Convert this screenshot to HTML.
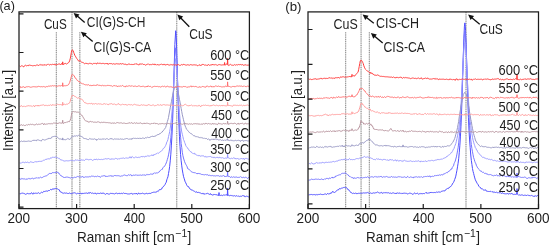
<!DOCTYPE html>
<html><head><meta charset="utf-8"><style>
html,body{margin:0;padding:0;background:#fff;width:550px;height:245px;overflow:hidden}
svg{display:block;will-change:transform}
text{font-family:"Liberation Sans",sans-serif;fill:#1e1e1e}
</style></head><body>
<svg width="550" height="245" viewBox="0 0 550 245">

<path d="M56.40,32.30 V208.60" stroke="#dadada" stroke-width="1.2" fill="none"/>
<path d="M56.40,32.30 V208.60" stroke="#9a9a9a" stroke-width="1.2" stroke-dasharray="1 1.2" fill="none"/>
<path d="M72.00,12.00 V208.60" stroke="#dadada" stroke-width="1.2" fill="none"/>
<path d="M72.00,12.00 V208.60" stroke="#9a9a9a" stroke-width="1.2" stroke-dasharray="1 1.2" fill="none"/>
<path d="M79.80,32.30 V208.60" stroke="#dadada" stroke-width="1.2" fill="none"/>
<path d="M79.80,32.30 V208.60" stroke="#9a9a9a" stroke-width="1.2" stroke-dasharray="1 1.2" fill="none"/>
<path d="M176.70,12.00 V208.60" stroke="#dadada" stroke-width="1.2" fill="none"/>
<path d="M176.70,12.00 V208.60" stroke="#9a9a9a" stroke-width="1.2" stroke-dasharray="1 1.2" fill="none"/>
<g fill="none" stroke-width="1.0" stroke-linejoin="round">
<path d="M19.60,193.77 20.18,193.89 20.75,193.70 21.33,193.05 21.90,193.38 22.48,193.14 23.05,193.56 23.62,193.14 24.20,193.76 24.78,193.76 25.35,194.33 25.93,193.95 26.50,193.91 27.08,193.51 27.65,193.30 28.23,193.99 28.80,193.68 29.38,193.74 29.95,193.67 30.52,193.82 31.10,192.95 31.68,192.72 32.25,193.47 32.83,194.26 33.40,192.95 33.98,193.04 34.55,193.38 35.12,193.18 35.70,193.18 36.27,193.12 36.85,193.56 37.42,193.30 38.00,193.25 38.58,192.70 39.15,193.17 39.73,193.61 40.30,193.26 40.88,192.76 41.45,192.23 42.02,192.63 42.60,192.62 43.17,192.27 43.75,191.34 44.33,191.53 44.90,191.34 45.47,191.23 46.05,191.47 46.62,190.93 47.20,190.94 47.77,191.34 48.35,190.55 48.92,190.45 49.50,190.53 50.08,189.96 50.65,189.36 51.22,189.71 51.80,189.89 52.38,188.89 52.95,189.04 53.52,188.93 54.10,189.47 54.67,188.51 55.25,188.71 55.82,188.30 56.40,188.36 56.98,188.79 57.55,188.96 58.12,189.36 58.70,189.62 59.27,189.77 59.85,191.09 60.42,191.99 61.00,192.01 61.57,192.16 62.15,193.01 62.73,193.09 63.30,193.14 63.88,193.47 64.45,192.96 65.03,192.88 65.60,193.21 66.17,192.87 66.75,193.20 67.32,193.36 67.90,193.52 68.47,193.53 69.05,192.86 69.62,193.14 70.20,193.37 70.78,193.67 71.35,193.73 71.92,193.30 72.50,193.21 73.07,192.84 73.65,192.99 74.22,192.91 74.80,192.71 75.38,193.02 75.95,193.56 76.53,193.88 77.10,193.52 77.67,193.28 78.25,193.37 78.82,193.56 79.40,193.51 79.97,193.45 80.55,193.21 81.12,193.13 81.70,193.98 82.28,193.78 82.85,193.05 83.42,193.46 84.00,193.01 84.57,193.25 85.15,193.04 85.72,193.26 86.30,193.03 86.88,193.07 87.45,193.34 88.03,193.44 88.60,192.62 89.17,193.48 89.75,192.51 90.32,192.50 90.90,192.84 91.47,193.30 92.05,193.21 92.62,193.04 93.20,193.55 93.78,193.34 94.35,193.26 94.92,193.55 95.50,193.09 96.07,194.00 96.65,193.91 97.22,193.44 97.80,193.36 98.38,193.38 98.95,193.60 99.53,193.54 100.10,193.10 100.67,192.92 101.25,193.63 101.82,192.94 102.40,192.96 102.97,193.68 103.55,192.95 104.12,193.47 104.70,193.79 105.28,194.35 105.85,194.11 106.42,193.66 107.00,193.12 107.57,193.83 108.15,193.97 108.72,194.13 109.30,194.16 109.88,193.64 110.45,193.38 111.03,193.05 111.60,193.51 112.17,193.77 112.75,193.32 113.32,193.51 113.90,193.83 114.47,194.11 115.05,193.38 115.62,193.38 116.20,193.12 116.78,193.06 117.35,193.68 117.92,193.88 118.50,193.45 119.07,193.40 119.65,193.26 120.22,194.08 120.80,193.44 121.38,193.37 121.95,193.18 122.53,193.65 123.10,193.37 123.67,192.82 124.25,193.42 124.82,193.53 125.40,193.45 125.97,193.53 126.55,193.62 127.12,193.70 127.70,193.99 128.28,193.92 128.85,194.02 129.42,193.94 130.00,193.86 130.57,193.62 131.15,193.63 131.72,193.17 132.30,193.90 132.88,194.41 133.45,193.79 134.03,193.34 134.60,193.67 135.17,193.54 135.75,193.93 136.32,193.14 136.90,194.06 137.47,194.23 138.05,193.93 138.62,192.96 139.20,193.33 139.78,194.07 140.35,193.76 140.92,193.31 141.50,193.55 142.07,193.56 142.65,193.11 143.22,193.39 143.80,193.80 144.38,193.88 144.95,193.91 145.53,193.66 146.10,193.22 146.67,193.29 147.25,193.99 147.82,193.65 148.40,193.59 148.97,192.90 149.55,193.46 150.12,193.21 150.70,193.56 151.27,192.88 151.85,192.73 152.42,192.56 153.00,192.29 153.57,192.23 154.15,192.27 154.72,192.12 155.30,192.08 155.87,192.50 156.45,191.98 157.02,191.68 157.60,190.99 158.17,191.52 158.75,190.52 159.32,189.56 159.90,189.85 160.47,189.72 161.05,188.91 161.62,189.14 162.20,187.74 162.77,186.97 163.35,186.76 163.92,186.01 164.50,185.19 165.07,184.49 165.65,183.14 166.22,182.28 166.80,179.78 167.37,178.38 167.95,176.77 168.52,173.52 169.10,170.27 169.67,166.35 170.25,160.84 170.82,154.16 171.40,145.13 171.97,135.15 172.55,122.67 173.12,105.96 173.70,85.80 174.27,64.42 174.85,44.47 175.70,30.72 176.00,32.40 176.57,45.38 177.15,65.15 177.72,87.66 178.30,107.08 178.87,123.06 179.45,136.38 180.02,146.53 180.60,154.67 181.17,160.77 181.75,165.87 182.32,169.92 182.90,173.23 183.47,176.24 184.05,178.16 184.62,179.99 185.20,181.85 185.77,182.80 186.35,184.21 186.92,185.36 187.50,186.28 188.07,186.92 188.65,186.63 189.22,187.99 189.80,188.78 190.37,188.92 190.95,189.80 191.52,189.94 192.10,189.94 192.67,190.33 193.25,190.79 193.82,190.86 194.40,191.08 194.97,191.70 195.55,192.30 196.12,191.82 196.70,191.78 197.27,192.68 197.85,192.33 198.42,192.35 199.00,192.46 199.57,192.72 200.15,192.90 200.72,193.13 201.30,193.55 201.87,193.55 202.45,193.71 203.02,192.95 203.60,193.55 204.17,194.41 204.75,193.62 205.32,194.19 205.90,193.62 206.47,193.64 207.05,193.65 207.62,193.31 208.20,193.80 208.77,193.72 209.35,194.49 209.92,193.94 210.50,193.61 211.07,194.90 211.65,194.51 212.22,194.59 212.80,195.38 213.37,194.65 213.95,194.14 214.52,194.47 215.10,194.66 215.67,194.65 216.25,194.96 216.82,194.48 217.40,195.23 217.97,194.98 218.55,194.94 218.70,195.60 219.00,192.56 219.30,194.74 219.70,195.53 220.27,195.40 220.85,195.44 221.42,195.18 222.00,195.59 222.57,195.59 223.15,195.14 223.72,194.93 224.30,194.99 224.87,195.28 225.45,195.18 226.02,194.45 226.60,194.93 227.30,195.41 227.60,188.25 227.90,195.60 228.32,195.03 228.90,195.26 229.47,195.72 230.05,195.18 230.62,195.45 231.20,195.36 231.77,195.71 232.35,195.80 232.92,195.52 233.50,195.97 234.07,195.87 234.65,195.65 235.22,196.01 235.80,196.35 236.37,195.83 236.95,195.68 237.52,196.25 238.10,195.87 238.67,196.20 239.25,196.63 239.82,196.23 240.40,196.26 240.97,196.10 241.55,196.31 242.12,195.82 242.70,195.62 243.27,196.06 243.85,195.44 244.42,196.54 245.00,196.94 245.57,196.58 246.15,196.23 246.72,196.21 247.30,196.46 247.87,196.36 248.45,196.88 249.02,196.39" stroke="#4c4cff"/>
<path d="M19.60,178.63 20.18,178.65 20.75,179.50 21.33,178.79 21.90,178.27 22.48,178.72 23.05,178.77 23.62,178.95 24.20,178.62 24.78,179.16 25.35,178.98 25.93,179.59 26.50,179.05 27.08,178.80 27.65,179.12 28.23,179.00 28.80,178.39 29.38,178.76 29.95,178.33 30.52,178.86 31.10,178.35 31.68,178.53 32.25,178.16 32.83,178.42 33.40,178.82 33.98,178.81 34.55,178.17 35.12,177.73 35.70,178.28 36.27,177.90 36.85,177.73 37.42,178.13 38.00,177.52 38.58,177.99 39.15,178.13 39.73,177.73 40.30,177.22 40.88,177.23 41.45,177.71 42.02,177.27 42.60,177.40 43.17,176.88 43.75,176.64 44.33,176.44 44.90,176.21 45.47,176.04 46.05,176.01 46.62,175.94 47.20,175.27 47.77,174.64 48.35,174.38 48.92,174.03 49.50,173.38 50.08,173.72 50.65,173.37 51.22,173.99 51.80,173.17 52.38,172.52 52.95,172.84 53.52,172.67 54.10,172.82 54.67,172.54 55.25,172.99 55.82,172.18 56.40,172.28 56.98,172.13 57.55,172.30 58.12,172.29 58.70,173.49 59.27,173.49 59.85,174.65 60.42,175.40 61.00,175.96 61.57,175.74 62.15,176.75 62.73,176.68 63.30,177.16 63.88,177.11 64.45,177.94 65.03,177.31 65.60,177.29 66.17,177.45 66.75,176.89 67.32,177.08 67.90,177.20 68.47,177.38 69.05,177.21 69.62,177.88 70.20,178.09 70.78,177.88 71.35,177.39 71.92,177.48 72.50,177.99 73.07,177.99 73.65,177.60 74.22,177.08 74.80,177.51 75.38,177.48 75.95,177.22 76.53,177.06 77.10,176.60 77.67,176.42 78.25,176.43 78.82,176.96 79.40,177.05 79.97,176.74 80.55,176.81 81.12,177.38 81.70,176.62 82.28,176.67 82.85,176.41 83.42,177.41 84.00,176.84 84.57,177.30 85.15,177.18 85.72,176.65 86.30,176.94 86.88,176.86 87.45,176.91 88.03,176.82 88.60,176.93 89.17,176.93 89.75,176.45 90.32,176.84 90.90,176.40 91.47,176.10 92.05,176.33 92.62,176.20 93.20,176.23 93.78,176.09 94.35,176.70 94.92,176.85 95.50,176.36 96.07,176.90 96.65,176.54 97.22,176.21 97.80,176.03 98.38,176.46 98.95,176.38 99.53,176.47 100.10,177.40 100.67,176.94 101.25,176.46 101.82,175.99 102.40,176.09 102.97,176.01 103.55,176.00 104.12,175.39 104.70,176.08 105.28,175.82 105.85,176.87 106.42,176.28 107.00,176.53 107.57,176.38 108.15,175.95 108.72,176.16 109.30,175.98 109.88,175.94 110.45,176.03 111.03,175.39 111.60,176.36 112.17,176.31 112.75,176.04 113.32,176.48 113.90,175.77 114.47,175.05 115.05,175.81 115.62,175.60 116.20,175.80 116.78,175.67 117.35,175.74 117.92,175.48 118.50,175.71 119.07,176.03 119.65,175.97 120.22,176.40 120.80,176.11 121.38,175.96 121.95,175.84 122.53,175.90 123.10,175.66 123.67,175.20 124.25,175.14 124.82,174.86 125.40,175.30 125.97,175.51 126.55,175.67 127.12,175.92 127.70,175.42 128.28,174.70 128.85,175.00 129.42,175.28 130.00,174.69 130.57,174.76 131.15,174.81 131.72,175.88 132.30,175.82 132.88,175.18 133.45,175.08 134.03,175.24 134.60,175.32 135.17,175.31 135.75,174.83 136.32,174.75 136.90,175.52 137.47,175.22 138.05,175.49 138.62,175.18 139.20,175.17 139.78,175.16 140.35,174.95 140.92,175.37 141.50,175.33 142.07,174.99 142.65,174.95 143.22,175.40 143.80,174.61 144.38,174.99 144.95,175.15 145.53,175.31 146.10,175.27 146.67,174.45 147.25,174.75 147.82,174.38 148.40,174.64 148.97,174.42 149.55,174.56 150.12,174.00 150.70,174.08 151.27,174.15 151.85,174.09 152.42,174.12 153.00,174.35 153.57,173.37 154.15,173.37 154.72,172.66 155.30,173.14 155.87,173.46 156.45,172.91 157.02,172.96 157.60,173.09 158.17,172.38 158.75,172.16 159.32,171.88 159.90,170.98 160.47,170.30 161.05,170.10 161.62,169.53 162.20,169.49 162.77,168.05 163.35,167.25 163.92,166.53 164.50,166.39 165.07,165.42 165.65,164.31 166.22,162.94 166.80,161.34 167.37,159.40 167.95,157.55 168.52,154.89 169.10,151.93 169.67,148.04 170.25,143.43 170.82,137.70 171.40,131.31 171.97,122.76 172.55,111.83 173.12,98.05 173.70,84.27 174.27,69.92 174.85,56.96 175.70,47.80 176.00,49.15 176.57,58.00 177.15,70.21 177.72,84.39 178.30,98.98 178.87,112.05 179.45,122.43 180.02,130.61 180.60,137.16 181.17,143.54 181.75,147.68 182.32,152.24 182.90,155.62 183.47,157.99 184.05,159.95 184.62,161.69 185.20,163.16 185.77,164.29 186.35,165.31 186.92,166.26 187.50,167.97 188.07,169.02 188.65,169.15 189.22,169.77 189.80,170.00 190.37,170.55 190.95,171.41 191.52,171.77 192.10,172.11 192.67,172.31 193.25,172.60 193.82,172.33 194.40,172.93 194.97,172.40 195.55,173.06 196.12,173.40 196.70,173.64 197.27,173.00 197.85,173.93 198.42,173.51 199.00,173.07 199.57,173.84 200.15,174.13 200.72,173.74 201.30,174.37 201.87,174.44 202.45,174.55 203.02,174.22 203.60,174.89 204.17,174.87 204.75,174.81 205.32,174.52 205.90,174.64 206.47,174.86 207.05,174.43 207.62,174.70 208.20,175.52 208.77,175.27 209.35,175.28 209.92,175.19 210.50,175.61 211.07,175.80 211.65,175.62 212.22,175.38 212.80,175.73 213.37,175.92 213.95,175.61 214.52,175.79 215.10,175.87 215.67,176.02 216.25,175.83 216.82,175.55 217.40,175.74 217.97,175.64 218.55,175.75 219.12,176.30 219.70,176.25 220.27,175.98 220.85,176.07 221.42,176.20 222.00,176.21 222.57,175.97 223.15,175.94 223.72,175.37 224.30,176.01 224.87,176.86 225.45,176.18 226.02,176.82 226.60,176.21 227.30,176.22 227.60,171.78 227.90,176.20 228.32,176.24 228.90,176.87 229.47,176.58 230.05,176.88 230.62,177.57 231.20,176.58 231.77,177.12 232.35,177.50 232.92,176.98 233.50,176.85 234.07,177.17 234.65,177.23 235.22,177.57 235.80,176.71 236.37,176.97 236.95,177.43 237.52,177.42 238.10,177.13 238.67,177.47 239.25,177.52 239.82,177.06 240.40,176.64 240.97,177.22 241.55,177.32 242.12,177.49 242.70,177.63 243.27,177.26 243.85,177.28 244.42,177.92 245.00,177.48 245.57,177.22 246.15,177.23 246.72,177.80 247.30,178.46 247.87,178.37 248.45,177.49 249.02,177.81" stroke="#7474ff"/>
<path d="M19.60,162.97 20.18,163.12 20.75,163.02 21.33,163.18 21.90,162.48 22.48,162.34 23.05,162.17 23.62,162.14 24.20,162.81 24.78,162.67 25.35,162.21 25.93,162.09 26.50,162.73 27.08,162.09 27.65,162.11 28.23,162.44 28.80,162.77 29.38,162.84 29.95,162.23 30.52,161.79 31.10,161.72 31.68,162.19 32.25,162.22 32.83,162.54 33.40,162.47 33.98,162.51 34.55,161.77 35.12,161.53 35.70,161.80 36.27,161.98 36.85,161.57 37.42,162.13 38.00,161.21 38.58,161.45 39.15,161.17 39.73,161.49 40.30,161.52 40.88,161.17 41.45,161.23 42.02,161.46 42.60,160.74 43.17,160.44 43.75,160.17 44.33,160.20 44.90,159.86 45.47,159.37 46.05,159.95 46.62,159.31 47.20,158.62 47.77,159.26 48.35,158.67 48.92,158.98 49.50,159.10 50.08,158.26 50.65,157.86 51.22,158.41 51.80,157.46 52.38,157.27 52.95,157.26 53.52,157.17 54.10,157.77 54.67,157.37 55.25,156.65 55.82,157.54 56.40,157.46 56.98,157.21 57.55,157.97 58.12,158.10 58.70,158.39 59.27,158.32 59.85,158.85 60.42,159.82 61.00,160.04 61.57,160.01 62.15,159.80 62.73,160.50 63.30,160.66 63.88,161.04 64.45,161.06 65.03,161.14 65.60,160.87 66.17,160.92 66.75,160.63 67.32,160.82 67.90,160.86 68.47,160.85 69.05,160.44 69.62,160.72 70.20,160.58 70.78,160.23 71.35,160.48 71.92,160.73 72.50,160.39 73.07,160.98 73.65,160.69 74.22,160.85 74.80,160.73 75.38,159.87 75.95,159.60 76.53,160.29 77.10,160.15 77.67,160.05 78.25,160.37 78.82,160.37 79.40,160.32 79.97,159.89 80.55,160.54 81.12,159.47 81.70,160.27 82.28,159.94 82.85,160.29 83.42,160.10 84.00,160.12 84.57,160.48 85.15,159.85 85.72,159.17 86.30,159.47 86.88,158.95 87.45,159.37 88.03,159.41 88.60,159.83 89.17,159.55 89.75,159.79 90.32,159.19 90.90,159.64 91.47,159.57 92.05,159.93 92.62,160.46 93.20,160.04 93.78,159.97 94.35,159.34 94.92,159.24 95.50,160.04 96.07,159.03 96.65,159.24 97.22,159.53 97.80,159.75 98.38,159.27 98.95,159.33 99.53,159.51 100.10,159.79 100.67,159.43 101.25,159.21 101.82,159.64 102.40,159.65 102.97,159.11 103.55,159.25 104.12,159.11 104.70,159.12 105.28,158.51 105.85,158.99 106.42,158.98 107.00,158.55 107.57,158.84 108.15,158.59 108.72,158.60 109.30,158.70 109.88,159.53 110.45,159.37 111.03,158.57 111.60,159.13 112.17,158.72 112.75,159.16 113.32,159.04 113.90,159.19 114.47,159.10 115.05,158.58 115.62,158.37 116.20,158.56 116.78,158.61 117.35,158.91 117.92,159.38 118.50,158.74 119.07,159.15 119.65,158.74 120.22,158.64 120.80,158.05 121.38,158.24 121.95,158.45 122.53,158.18 123.10,157.91 123.67,158.07 124.25,158.46 124.82,158.46 125.40,157.89 125.97,158.26 126.55,157.94 127.12,157.75 127.70,158.29 128.28,158.09 128.85,157.90 129.42,157.75 130.00,156.64 130.57,157.72 131.15,158.15 131.72,156.86 132.30,156.51 132.88,157.12 133.45,157.78 134.03,157.70 134.60,157.72 135.17,157.23 135.75,157.01 136.32,157.41 136.90,156.90 137.47,157.62 138.05,157.59 138.62,157.27 139.20,156.93 139.78,157.63 140.35,157.20 140.92,156.46 141.50,156.55 142.07,156.16 142.65,156.97 143.22,156.46 143.80,156.66 144.38,156.82 144.95,157.10 145.53,156.18 146.10,156.61 146.67,156.28 147.25,156.25 147.82,155.45 148.40,155.98 148.97,156.08 149.55,156.07 150.12,156.08 150.70,155.51 151.27,154.97 151.85,155.52 152.42,154.86 153.00,155.94 153.57,155.06 154.15,154.12 154.72,154.73 155.30,154.39 155.87,153.94 156.45,153.71 157.02,153.53 157.60,152.87 158.17,153.34 158.75,153.26 159.32,152.57 159.90,151.82 160.47,151.66 161.05,151.53 161.62,150.88 162.20,150.04 162.77,149.56 163.35,148.35 163.92,148.16 164.50,147.67 165.07,146.56 165.65,145.49 166.22,144.12 166.80,142.05 167.37,141.23 167.95,139.53 168.52,136.65 169.10,134.24 169.67,131.70 170.25,128.19 170.82,123.45 171.40,118.22 171.97,111.93 172.55,104.89 173.12,96.20 173.70,85.92 174.27,74.72 174.85,65.26 175.70,58.57 176.00,59.92 176.57,65.63 177.15,75.12 177.72,86.46 178.30,96.44 178.87,105.21 179.45,112.42 180.02,118.83 180.60,124.49 181.17,127.90 181.75,131.97 182.32,134.25 182.90,136.66 183.47,139.41 184.05,140.71 184.62,142.38 185.20,143.76 185.77,145.58 186.35,146.54 186.92,147.11 187.50,147.91 188.07,148.94 188.65,149.32 189.22,150.35 189.80,151.16 190.37,151.61 190.95,151.45 191.52,152.57 192.10,152.65 192.67,153.46 193.25,153.55 193.82,153.57 194.40,153.19 194.97,154.55 195.55,154.17 196.12,154.65 196.70,155.12 197.27,155.53 197.85,154.93 198.42,155.84 199.00,155.37 199.57,155.48 200.15,156.41 200.72,155.98 201.30,155.99 201.87,155.62 202.45,156.09 203.02,155.44 203.60,156.25 204.17,156.67 204.75,156.63 205.32,156.31 205.90,157.27 206.47,156.87 207.05,156.68 207.62,156.85 208.20,156.62 208.77,156.66 209.35,156.49 209.92,156.72 210.50,156.40 211.07,157.16 211.65,157.12 212.22,157.19 212.80,157.45 213.37,157.27 213.95,158.08 214.52,157.24 215.10,157.56 215.67,157.81 216.25,157.57 216.82,157.29 217.40,157.20 217.97,158.00 218.55,157.73 219.12,157.92 219.70,157.18 220.27,157.46 220.85,157.94 221.42,157.89 222.00,157.93 222.57,157.68 223.15,158.27 223.72,158.05 224.30,158.33 224.87,158.36 225.45,158.00 226.02,158.12 226.60,158.23 227.30,157.95 227.60,153.68 227.90,158.01 228.32,157.74 228.90,158.22 229.47,158.40 230.05,158.66 230.62,158.66 231.20,158.22 231.77,158.14 232.35,158.79 232.92,158.35 233.50,157.87 234.07,157.79 234.65,158.14 235.22,159.11 235.80,158.28 236.37,159.03 236.95,158.53 237.52,158.56 238.10,158.38 238.67,159.27 239.25,159.38 239.82,158.69 240.40,158.95 240.97,158.34 241.55,158.57 242.12,158.90 242.70,158.77 243.27,159.07 243.85,158.20 244.42,159.59 245.00,159.04 245.57,158.39 246.15,158.57 246.72,158.39 247.30,158.56 247.87,159.29 248.45,159.14 249.02,159.54" stroke="#9a9aff"/>
<path d="M19.60,142.01 20.18,141.64 20.75,141.47 21.33,140.96 21.90,141.38 22.48,141.56 23.05,141.31 23.62,141.25 24.20,140.79 24.78,141.65 25.35,141.47 25.93,141.16 26.50,141.39 27.08,141.33 27.65,141.20 28.23,141.04 28.80,141.06 29.38,141.18 29.95,141.30 30.52,141.32 31.10,141.14 31.68,141.24 32.25,140.87 32.83,140.26 33.40,140.11 33.98,140.86 34.55,140.14 35.12,140.23 35.70,140.50 36.27,140.85 36.85,139.87 37.42,139.91 38.00,140.00 38.58,140.01 39.15,140.23 39.73,140.51 40.30,140.48 40.88,141.20 41.45,140.92 42.02,139.79 42.60,139.40 43.17,139.67 43.75,139.65 44.33,140.05 44.90,139.90 45.47,139.83 46.05,139.42 46.62,139.35 47.20,139.18 47.77,138.78 48.35,138.81 48.92,137.98 49.50,138.42 50.08,138.25 50.65,138.83 51.22,137.80 51.80,136.89 52.38,136.83 52.95,136.84 53.52,136.54 54.10,136.21 54.67,136.36 55.25,136.00 55.82,136.76 56.40,136.08 56.98,136.82 57.55,137.45 58.12,137.76 58.70,138.52 59.27,138.72 59.85,139.21 60.42,138.96 61.00,138.93 61.57,139.27 62.15,139.65 62.40,140.04 62.70,137.90 63.00,139.44 63.30,139.41 63.88,139.95 64.45,139.60 65.03,140.07 65.60,139.66 66.17,139.39 66.75,139.29 67.32,138.87 67.90,138.38 68.47,138.88 69.05,138.81 69.62,139.58 70.20,138.92 70.78,138.49 71.35,137.56 71.92,136.71 72.50,135.99 73.07,135.80 73.65,136.60 74.22,136.08 74.80,135.88 75.38,136.18 75.95,135.83 76.53,135.65 77.10,136.31 77.67,135.85 78.25,135.44 78.82,135.34 79.40,135.24 79.97,135.71 80.55,136.13 81.12,136.17 81.70,136.65 82.28,136.68 82.85,137.46 83.42,138.28 84.00,138.13 84.57,138.55 85.15,138.56 85.72,138.72 86.30,139.07 86.88,138.74 87.45,139.40 88.03,139.62 88.60,139.65 89.17,138.93 89.75,138.41 90.32,138.75 90.90,139.08 91.47,139.11 92.05,139.07 92.62,139.14 93.20,139.03 93.78,139.35 94.35,138.73 94.92,139.19 95.50,139.36 96.07,139.03 96.65,140.41 97.22,139.59 97.80,139.38 98.38,138.83 98.95,139.19 99.53,139.27 100.10,139.60 100.67,139.14 101.25,139.57 101.82,138.84 102.40,139.12 102.97,138.58 103.55,139.04 104.12,139.42 104.70,138.73 105.28,139.32 105.85,139.39 106.42,138.70 107.00,138.74 107.57,138.89 108.15,139.29 108.72,139.68 109.30,139.08 109.88,138.82 110.45,138.95 111.03,138.18 111.60,139.07 112.17,139.08 112.75,139.03 113.32,139.57 113.90,139.14 114.47,138.88 115.05,139.40 115.62,139.03 116.20,139.10 116.78,138.99 117.35,139.05 117.92,139.14 118.50,139.19 119.07,138.69 119.65,139.40 120.22,138.99 120.80,138.87 121.38,139.26 121.95,138.90 122.53,139.12 123.10,139.39 123.67,139.37 124.25,138.90 124.82,139.25 125.40,138.92 125.97,138.63 126.55,138.53 127.12,138.87 127.70,138.61 128.28,139.20 128.85,139.16 129.42,139.05 130.00,139.19 130.57,139.16 131.15,138.56 131.72,139.49 132.30,138.38 132.88,138.63 133.45,138.01 134.03,138.36 134.60,138.38 135.17,138.05 135.75,138.59 136.32,138.56 136.90,138.50 137.47,138.11 138.05,138.81 138.62,138.41 139.20,138.60 139.78,137.87 140.35,138.64 140.92,138.20 141.50,138.50 142.07,138.07 142.65,138.04 143.22,138.17 143.80,137.98 144.38,138.61 144.95,137.95 145.53,137.70 146.10,138.03 146.67,137.75 147.25,137.25 147.82,137.27 148.40,137.56 148.97,137.32 149.55,137.54 150.12,136.74 150.70,136.95 151.27,136.55 151.85,136.48 152.42,136.27 153.00,136.03 153.57,136.92 154.15,136.28 154.72,136.20 155.30,135.90 155.87,136.20 156.45,135.28 157.02,134.64 157.60,134.93 158.17,134.29 158.75,134.73 159.32,133.81 159.90,133.56 160.47,133.53 161.05,132.64 161.62,132.35 162.20,132.10 162.77,131.01 163.35,130.68 163.92,129.56 164.50,128.99 165.07,128.63 165.65,127.49 166.22,125.53 166.80,123.71 167.37,121.56 167.95,119.81 168.52,117.42 169.10,114.00 169.67,111.02 170.25,107.75 170.82,104.95 171.40,101.79 171.97,98.57 172.55,95.69 173.12,92.97 173.70,90.42 174.27,88.70 174.85,87.11 175.42,86.80 176.00,87.00 176.57,86.66 177.15,88.98 177.72,90.56 178.30,93.14 178.87,95.74 179.45,99.26 180.02,102.10 180.60,105.44 181.17,108.41 181.75,111.67 182.32,114.82 182.90,117.13 183.47,119.78 184.05,121.91 184.62,124.04 185.20,126.08 185.77,127.34 186.35,128.92 186.92,129.41 187.50,130.28 188.07,131.09 188.65,131.52 189.22,132.47 189.80,132.70 190.37,133.06 190.95,133.78 191.52,133.88 192.10,134.40 192.67,134.72 193.25,135.41 193.82,135.90 194.40,135.90 194.97,135.67 195.55,136.28 196.12,137.13 196.70,136.56 197.27,136.60 197.85,137.25 198.42,137.08 199.00,137.07 199.57,137.68 200.15,137.26 200.72,137.88 201.30,137.53 201.87,137.99 202.45,137.99 203.02,137.82 203.60,138.42 204.17,137.89 204.75,138.50 205.32,138.47 205.90,138.94 206.47,138.37 207.05,139.01 207.62,139.60 208.20,138.91 208.77,139.00 209.35,139.40 209.92,140.45 210.50,139.62 211.07,139.14 211.65,139.37 212.22,139.34 212.80,139.27 213.37,139.00 213.95,139.93 214.52,139.15 215.10,139.45 215.67,138.99 216.25,138.79 216.82,139.71 217.40,139.30 217.97,139.95 218.55,139.91 219.12,139.58 219.70,140.10 220.27,139.53 220.85,140.15 221.42,140.46 222.00,139.73 222.57,140.06 223.15,140.63 223.72,140.38 224.30,139.80 224.87,140.44 225.45,140.29 226.02,140.33 226.60,139.82 227.30,140.29 227.60,138.68 227.90,139.92 228.32,140.38 228.90,140.23 229.47,140.58 230.05,140.68 230.62,140.16 231.20,139.88 231.77,140.72 232.35,140.71 232.92,140.29 233.50,140.77 234.07,140.73 234.65,140.69 235.22,140.37 235.80,140.27 236.37,140.88 236.95,140.59 237.52,140.45 238.10,140.73 238.67,140.24 239.25,140.45 239.82,140.55 240.40,141.50 240.97,140.28 241.55,140.53 242.12,140.37 242.70,140.01 243.27,141.20 243.85,141.34 244.42,140.69 245.00,140.58 245.57,140.58 246.15,140.62 246.72,140.56 247.30,140.76 247.87,141.10 248.45,140.94 249.02,141.10" stroke="#9898c4"/>
<path d="M19.60,125.83 20.18,125.13 20.75,125.08 21.33,124.83 21.90,124.73 22.48,125.41 23.05,125.11 23.62,124.94 24.20,125.29 24.78,125.62 25.35,125.42 25.93,125.32 26.50,124.71 27.08,125.20 27.65,125.16 28.23,124.50 28.80,124.42 29.38,124.80 29.95,124.34 30.52,124.22 31.10,124.18 31.68,124.67 32.25,124.32 32.83,124.40 33.40,124.65 33.98,124.90 34.55,124.91 35.12,124.79 35.70,124.68 36.27,123.82 36.85,124.18 37.42,124.61 38.00,124.62 38.58,124.18 39.15,124.42 39.73,124.22 40.30,124.21 40.88,124.05 41.45,123.77 42.02,123.45 42.60,123.43 43.17,123.71 43.75,124.87 44.33,123.59 44.90,124.01 45.47,124.28 46.05,124.28 46.62,124.02 47.20,123.97 47.77,123.97 48.35,123.70 48.92,123.60 49.50,123.69 50.08,123.70 50.65,123.74 51.22,123.39 51.80,123.94 52.38,123.84 52.95,123.49 53.52,123.01 54.10,122.93 54.67,123.16 55.25,123.27 55.82,123.04 56.40,123.54 56.98,122.94 57.55,123.66 58.12,122.83 58.70,123.38 59.27,122.94 59.85,122.62 60.42,122.99 61.00,123.07 61.57,123.11 62.15,123.33 62.40,123.07 62.70,120.24 63.00,123.05 63.30,123.45 63.88,123.39 64.45,122.58 65.03,122.52 65.60,122.57 66.17,122.55 66.75,121.87 67.32,122.03 67.90,121.83 68.47,121.49 69.05,122.08 69.62,121.23 70.20,120.18 70.78,118.60 71.35,115.54 71.92,112.56 72.50,111.87 73.07,111.69 73.65,111.57 74.22,111.84 74.80,111.79 75.38,111.71 75.95,111.95 76.53,112.16 77.10,111.94 77.67,112.19 78.25,112.13 78.82,112.45 79.40,112.89 79.97,113.49 80.55,114.31 81.12,114.80 81.70,115.04 82.28,116.09 82.85,116.49 83.42,117.82 84.00,118.68 84.57,119.72 85.15,120.40 85.72,121.10 86.30,121.21 86.88,120.85 87.45,121.20 88.03,122.19 88.60,122.00 89.17,122.03 89.75,121.97 90.32,121.13 90.90,121.64 91.47,121.87 92.05,121.61 92.62,121.77 93.20,122.27 93.78,122.17 94.35,122.17 94.92,122.06 95.50,122.20 96.07,122.34 96.65,122.29 97.22,121.93 97.80,121.93 98.38,121.67 98.95,122.44 99.53,122.31 100.10,122.70 100.67,122.79 101.25,122.10 101.82,122.29 102.40,122.58 102.97,121.85 103.55,122.40 104.12,122.48 104.70,122.33 105.28,122.69 105.85,122.21 106.42,122.56 107.00,123.03 107.57,122.58 108.15,123.03 108.72,122.58 109.30,122.65 109.88,123.06 110.45,122.99 111.03,123.12 111.60,123.27 112.17,123.45 112.75,122.66 113.32,123.39 113.90,122.95 114.47,123.03 115.05,122.85 115.62,123.43 116.20,123.22 116.78,122.43 117.35,122.56 117.92,122.69 118.50,122.83 119.07,122.95 119.65,123.07 120.22,122.87 120.80,122.91 121.38,122.92 121.95,122.84 122.53,123.38 123.10,123.13 123.67,123.14 124.25,123.26 124.82,122.91 125.40,123.53 125.97,123.19 126.55,123.51 127.12,123.15 127.70,123.44 128.28,123.26 128.85,122.95 129.42,122.92 130.00,122.60 130.57,123.28 131.15,122.84 131.72,122.55 132.30,123.41 132.88,123.12 133.45,123.35 134.03,123.23 134.60,122.73 135.17,123.06 135.75,123.55 136.32,123.17 136.90,122.60 137.47,123.39 138.05,123.21 138.62,123.31 139.20,123.07 139.78,123.35 140.35,123.00 140.92,122.76 141.50,123.50 142.07,123.50 142.65,123.92 143.22,123.17 143.80,123.43 144.38,123.10 144.95,123.99 145.53,123.40 146.10,123.63 146.67,123.13 147.25,123.28 147.82,123.31 148.40,123.52 148.97,123.53 149.55,123.91 150.12,123.77 150.70,124.02 151.27,123.52 151.85,123.68 152.42,123.04 153.00,123.69 153.57,123.51 154.15,122.79 154.72,123.40 155.30,123.29 155.87,123.98 156.45,123.53 157.02,123.69 157.60,123.72 158.17,123.95 158.75,124.39 159.32,123.94 159.90,123.56 160.47,123.81 161.05,123.70 161.62,123.63 162.20,123.67 162.77,123.29 163.35,123.86 163.92,123.90 164.50,123.83 165.07,123.71 165.65,123.64 166.22,123.88 166.80,123.55 167.37,123.54 167.95,123.85 168.52,123.48 169.10,123.82 169.67,123.69 170.25,123.73 170.82,123.81 171.40,123.96 171.97,123.85 172.55,123.41 173.12,123.44 173.70,123.64 174.27,123.49 174.85,122.90 175.42,122.99 176.00,123.47 176.57,123.93 177.15,124.16 177.72,124.69 178.30,123.76 178.87,123.49 179.45,123.59 180.02,123.76 180.60,123.88 181.17,124.35 181.75,123.95 182.32,124.27 182.90,124.12 183.47,123.79 184.05,123.27 184.62,123.80 185.20,123.82 185.77,123.22 186.35,124.08 186.92,123.68 187.50,123.89 188.07,124.28 188.65,124.18 189.22,123.86 189.80,123.82 190.37,124.09 190.95,124.06 191.52,123.84 192.10,124.16 192.67,124.36 193.25,123.98 193.82,123.59 194.40,123.84 194.97,123.38 195.55,123.70 196.12,123.97 196.70,123.79 197.27,123.48 197.85,124.35 198.42,123.93 199.00,124.16 199.57,124.11 200.15,123.82 200.72,124.44 201.30,124.00 201.87,124.21 202.45,124.13 203.02,124.25 203.60,123.51 204.17,123.86 204.75,124.02 205.32,123.85 205.90,123.07 206.47,123.44 207.05,123.68 207.62,123.99 208.20,123.60 208.77,123.34 209.35,123.93 209.92,123.97 210.50,123.83 211.07,124.21 211.65,124.11 212.22,124.07 212.80,123.22 213.37,124.15 213.95,123.73 214.52,123.76 215.10,124.15 215.67,123.90 216.25,124.02 216.82,124.07 217.40,124.69 217.97,124.22 218.55,123.05 219.12,123.50 219.70,123.68 220.27,123.81 220.85,123.66 221.42,124.06 222.00,124.01 222.57,124.04 223.15,123.67 223.72,123.20 224.30,123.94 224.87,123.80 225.45,123.67 226.02,123.65 226.60,124.23 227.30,123.34 227.60,121.26 227.90,123.91 228.32,124.53 228.90,123.33 229.47,123.80 230.05,123.75 230.62,123.36 231.20,123.39 231.77,123.36 232.35,123.55 232.92,123.79 233.50,123.72 234.07,122.99 234.65,123.25 235.22,123.39 235.80,123.63 236.37,124.25 236.95,124.47 237.52,123.59 238.10,123.03 238.67,124.13 239.25,123.79 239.82,124.19 240.40,123.42 240.97,123.70 241.55,123.44 242.12,123.46 242.70,123.19 243.27,123.60 243.85,124.35 244.42,123.68 245.00,123.57 245.57,123.05 246.15,123.92 246.72,123.92 247.30,123.87 247.87,123.65 248.45,123.76 249.02,124.25" stroke="#b8949e"/>
<path d="M19.60,106.60 20.18,106.19 20.75,106.50 21.33,105.54 21.90,105.87 22.48,106.69 23.05,106.24 23.62,106.39 24.20,105.91 24.78,106.56 25.35,106.55 25.93,106.62 26.50,106.11 27.08,106.25 27.65,105.80 28.23,106.12 28.80,105.36 29.38,106.01 29.95,106.19 30.52,105.89 31.10,106.38 31.68,105.99 32.25,106.51 32.83,105.86 33.40,105.59 33.98,105.72 34.55,106.92 35.12,105.51 35.70,105.57 36.27,105.57 36.85,105.92 37.42,105.23 38.00,106.22 38.58,105.15 39.15,106.04 39.73,105.62 40.30,105.26 40.88,105.73 41.45,105.01 42.02,105.36 42.60,105.01 43.17,104.89 43.75,104.85 44.33,105.23 44.90,105.93 45.47,105.37 46.05,105.82 46.62,105.23 47.20,105.53 47.77,105.58 48.35,105.27 48.92,105.49 49.50,105.39 50.08,105.35 50.65,104.62 51.22,105.07 51.80,105.69 52.38,104.58 52.95,104.89 53.52,104.97 54.10,105.04 54.67,105.10 55.25,105.19 55.82,104.78 56.40,104.82 56.98,104.51 57.55,104.22 58.12,104.37 58.70,104.66 59.27,104.68 59.85,104.57 60.42,104.50 61.00,104.96 61.57,104.76 62.15,104.76 62.40,105.48 62.70,102.26 63.00,104.76 63.30,104.89 63.88,103.95 64.45,104.20 65.03,104.43 65.60,104.62 66.17,104.17 66.75,104.20 67.32,104.19 67.90,104.10 68.47,103.51 69.05,103.43 69.62,102.88 70.20,101.35 70.78,98.90 71.35,97.58 71.92,95.92 72.50,95.14 73.07,95.94 73.65,95.24 74.22,95.95 74.80,96.65 75.38,96.55 75.95,97.07 76.53,97.43 77.10,97.88 77.67,98.25 78.25,98.00 78.82,97.55 79.40,98.54 79.97,98.62 80.55,99.12 81.12,98.64 81.70,99.44 82.28,99.56 82.85,100.31 83.42,101.35 84.00,101.89 84.57,102.62 85.15,102.30 85.72,103.29 86.30,103.22 86.88,103.57 87.45,103.73 88.03,103.75 88.60,103.78 89.17,103.10 89.75,103.67 90.32,103.71 90.90,103.62 91.47,103.39 92.05,103.28 92.62,104.38 93.20,103.90 93.78,103.65 94.35,104.04 94.92,103.65 95.50,103.50 96.07,103.92 96.65,103.89 97.22,103.97 97.80,104.11 98.38,103.76 98.95,103.74 99.53,104.00 100.10,103.89 100.67,103.94 101.25,104.25 101.82,104.16 102.40,104.47 102.97,103.84 103.55,104.02 104.12,103.96 104.70,103.58 105.28,104.19 105.85,104.17 106.42,103.82 107.00,104.41 107.57,104.42 108.15,104.96 108.72,104.20 109.30,104.01 109.88,104.00 110.45,103.86 111.03,103.93 111.60,103.58 112.17,104.30 112.75,104.19 113.32,104.25 113.90,104.28 114.47,103.83 115.05,104.58 115.62,104.69 116.20,104.96 116.78,104.49 117.35,104.27 117.92,104.06 118.50,103.47 119.07,104.67 119.65,104.45 120.22,104.85 120.80,104.92 121.38,104.84 121.95,104.33 122.53,104.03 123.10,104.67 123.67,104.54 124.25,104.63 124.82,104.89 125.40,104.27 125.97,105.15 126.55,104.83 127.12,105.03 127.70,105.06 128.28,104.73 128.85,104.32 129.42,104.65 130.00,104.52 130.57,104.89 131.15,104.76 131.72,104.65 132.30,105.24 132.88,105.08 133.45,104.74 134.03,104.37 134.60,104.26 135.17,104.66 135.75,104.71 136.32,105.10 136.90,104.57 137.47,105.08 138.05,104.62 138.62,105.13 139.20,105.86 139.78,105.33 140.35,105.33 140.92,104.98 141.50,104.74 142.07,104.94 142.65,105.24 143.22,104.89 143.80,104.99 144.38,105.18 144.95,105.12 145.53,105.35 146.10,105.89 146.67,105.15 147.25,105.05 147.82,105.49 148.40,104.55 148.97,104.63 149.55,104.93 150.12,105.04 150.70,105.52 151.27,105.62 151.85,105.24 152.42,105.09 153.00,104.91 153.57,105.01 154.15,105.40 154.72,105.86 155.30,105.48 155.87,105.67 156.45,105.41 157.02,104.83 157.60,104.79 158.17,105.08 158.75,104.88 159.32,105.40 159.90,104.79 160.47,104.84 161.05,104.58 161.62,105.51 162.20,104.90 162.77,105.15 163.35,104.50 163.92,105.08 164.50,104.69 165.07,104.70 165.65,105.19 166.22,104.90 166.80,105.08 167.37,105.01 167.95,104.77 168.52,105.13 169.10,105.03 169.67,105.30 170.25,105.34 170.82,104.96 171.40,105.03 171.97,105.30 172.55,105.71 173.12,104.86 173.70,105.30 174.27,105.58 174.85,105.31 175.42,105.50 176.00,105.57 176.57,104.96 177.15,105.65 177.72,105.12 178.30,104.98 178.87,105.75 179.45,105.79 180.02,105.73 180.60,105.31 181.17,105.33 181.75,105.26 182.32,105.74 182.90,105.57 183.47,105.53 184.05,104.74 184.62,104.62 185.20,104.22 185.77,104.52 186.35,105.04 186.92,105.34 187.50,105.60 188.07,105.80 188.65,105.97 189.22,105.14 189.80,105.83 190.37,105.49 190.95,105.49 191.52,105.06 192.10,105.60 192.67,105.89 193.25,105.49 193.82,106.11 194.40,105.77 194.97,105.37 195.55,105.68 196.12,105.78 196.70,105.83 197.27,105.65 197.85,106.32 198.42,105.55 199.00,104.93 199.57,105.70 200.15,106.09 200.72,106.92 201.30,105.50 201.87,105.36 202.45,105.52 203.02,105.60 203.60,105.13 204.17,105.34 204.75,105.35 205.32,104.96 205.90,105.49 206.47,105.52 207.05,105.50 207.62,105.42 208.20,105.77 208.77,105.28 209.35,105.84 209.92,105.65 210.50,105.97 211.07,105.08 211.65,105.80 212.22,105.43 212.80,105.33 213.37,105.03 213.95,104.85 214.52,105.41 215.10,105.65 215.67,105.79 216.25,105.20 216.82,105.09 217.40,105.56 217.97,105.54 218.55,105.84 219.12,105.62 219.70,105.21 220.27,105.85 220.85,105.85 221.42,105.61 222.00,104.99 222.57,105.86 223.15,105.82 223.72,105.32 224.30,105.42 224.87,106.11 225.45,105.78 226.02,105.91 226.60,105.86 227.30,105.64 227.60,102.18 227.90,105.57 228.32,105.60 228.90,105.08 229.47,105.46 230.05,105.85 230.62,105.62 231.20,105.73 231.77,106.02 232.35,106.37 232.92,105.93 233.50,105.00 234.07,105.34 234.65,105.21 235.22,105.43 235.80,105.08 236.37,105.51 236.95,105.08 237.52,105.30 238.10,105.32 238.67,105.81 239.25,105.19 239.82,105.19 240.40,105.32 240.97,105.28 241.55,105.15 242.12,105.52 242.70,106.08 243.27,105.46 243.85,104.91 244.42,105.69 245.00,105.54 245.57,105.40 246.15,105.39 246.72,105.13 247.30,104.88 247.87,105.28 248.45,105.47 249.02,105.41" stroke="#ff9c9c"/>
<path d="M19.60,87.00 20.18,86.41 20.75,87.76 21.33,87.37 21.90,87.22 22.48,87.02 23.05,87.28 23.62,86.54 24.20,87.26 24.78,87.92 25.35,87.00 25.93,87.28 26.50,86.76 27.08,86.49 27.65,86.83 28.23,86.64 28.80,86.67 29.38,86.86 29.95,86.82 30.52,87.25 31.10,87.23 31.68,87.08 32.25,86.97 32.83,86.66 33.40,86.67 33.98,86.79 34.55,86.76 35.12,86.59 35.70,86.93 36.27,87.28 36.85,86.44 37.42,86.77 38.00,86.39 38.58,86.33 39.15,86.39 39.73,86.65 40.30,86.76 40.88,86.81 41.45,86.64 42.02,86.87 42.60,86.80 43.17,86.44 43.75,86.67 44.33,86.73 44.90,86.96 45.47,87.05 46.05,87.14 46.62,86.43 47.20,86.82 47.77,86.37 48.35,86.05 48.92,86.37 49.50,86.20 50.08,86.08 50.65,85.91 51.22,86.14 51.80,85.90 52.38,85.56 52.95,85.96 53.52,85.99 54.10,85.69 54.67,85.75 55.25,85.93 55.82,86.05 56.40,86.45 56.98,86.42 57.55,86.09 58.12,85.69 58.70,85.91 59.27,85.58 59.85,86.01 60.42,85.79 61.00,86.20 61.57,85.52 62.15,86.00 62.40,86.10 62.70,82.79 63.00,86.43 63.30,85.92 63.88,85.75 64.45,85.74 65.03,85.43 65.60,85.77 66.17,85.41 66.75,85.68 67.32,85.57 67.90,84.80 68.47,84.69 69.05,83.77 69.62,82.60 70.20,80.80 70.78,78.59 71.35,76.56 71.92,74.66 72.50,74.36 73.07,74.85 73.65,75.24 74.22,75.96 74.80,77.13 75.38,78.28 75.95,78.30 76.53,79.33 77.10,80.36 77.67,80.62 78.25,81.32 78.82,81.13 79.40,82.13 79.97,82.05 80.55,82.64 81.12,82.91 81.70,83.45 82.28,84.05 82.85,83.55 83.42,83.88 84.00,84.19 84.57,84.55 85.15,84.59 85.72,84.99 86.30,84.83 86.88,84.76 87.45,85.02 88.03,84.67 88.60,84.67 89.17,85.35 89.75,85.47 90.32,85.08 90.90,85.82 91.47,85.62 92.05,85.17 92.62,85.93 93.20,85.09 93.78,85.28 94.35,85.38 94.92,85.17 95.50,85.44 96.07,85.13 96.65,85.39 97.22,84.49 97.80,85.26 98.38,85.03 98.95,85.64 99.53,85.30 100.10,85.21 100.67,85.61 101.25,85.82 101.82,85.73 102.40,85.06 102.97,85.47 103.55,85.71 104.12,85.27 104.70,85.86 105.28,85.65 105.85,85.92 106.42,85.85 107.00,85.26 107.57,85.38 108.15,85.44 108.72,85.42 109.30,85.41 109.88,85.74 110.45,85.69 111.03,85.82 111.60,85.82 112.17,86.36 112.75,86.32 113.32,85.79 113.90,85.75 114.47,85.68 115.05,85.45 115.62,86.14 116.20,85.96 116.78,85.77 117.35,86.70 117.92,85.99 118.50,86.17 119.07,86.11 119.65,86.19 120.22,85.80 120.80,86.10 121.38,86.34 121.95,85.62 122.53,85.45 123.10,85.90 123.67,86.34 124.25,86.34 124.82,86.83 125.40,86.91 125.97,85.79 126.55,86.11 127.12,86.22 127.70,86.26 128.28,85.77 128.85,86.29 129.42,85.76 130.00,86.19 130.57,86.18 131.15,86.11 131.72,85.88 132.30,85.72 132.88,86.34 133.45,86.38 134.03,86.30 134.60,86.18 135.17,86.23 135.75,86.06 136.32,86.49 136.90,86.45 137.47,86.41 138.05,86.37 138.62,85.82 139.20,85.83 139.78,86.24 140.35,86.65 140.92,86.25 141.50,86.53 142.07,86.79 142.65,86.08 143.22,86.36 143.80,86.19 144.38,86.71 144.95,87.01 145.53,86.74 146.10,86.97 146.67,86.26 147.25,86.95 147.82,85.84 148.40,86.01 148.97,86.43 149.55,86.52 150.12,86.33 150.70,86.36 151.27,86.95 151.85,87.59 152.42,87.04 153.00,87.07 153.57,86.54 154.15,86.36 154.72,86.32 155.30,86.38 155.87,86.59 156.45,86.47 157.02,86.75 157.60,86.24 158.17,86.80 158.75,86.75 159.32,86.54 159.90,86.91 160.47,87.05 161.05,87.13 161.62,86.59 162.20,85.95 162.77,86.38 163.35,86.58 163.92,86.64 164.50,86.19 165.07,86.52 165.65,86.98 166.22,87.09 166.80,86.28 167.37,86.14 167.95,86.46 168.52,86.72 169.10,86.71 169.67,86.92 170.25,86.50 170.82,87.05 171.40,86.63 171.97,87.62 172.55,87.25 173.12,87.42 173.70,86.90 174.27,87.50 174.85,86.95 175.42,87.18 176.00,86.82 176.57,87.26 177.15,86.42 177.72,86.27 178.30,86.43 178.87,86.75 179.45,86.43 180.02,87.24 180.60,86.63 181.17,86.69 181.75,87.07 182.32,87.00 182.90,87.04 183.47,86.36 184.05,86.66 184.62,86.59 185.20,86.43 185.77,86.76 186.35,86.83 186.92,87.56 187.50,87.14 188.07,86.59 188.65,86.94 189.22,86.78 189.80,86.94 190.37,86.47 190.95,85.77 191.52,86.93 192.10,86.94 192.67,86.30 193.25,86.38 193.82,86.26 194.40,86.87 194.97,86.32 195.55,86.39 196.12,87.04 196.70,86.64 197.27,86.85 197.85,87.44 198.42,87.33 199.00,86.57 199.57,86.93 200.15,87.05 200.72,87.20 201.30,87.29 201.87,86.57 202.45,86.47 203.02,86.32 203.60,86.68 204.17,86.73 204.75,87.10 205.32,87.10 205.90,87.25 206.47,86.14 207.05,86.50 207.62,86.11 208.20,86.59 208.77,86.77 209.35,86.73 209.92,86.42 210.50,86.17 211.07,85.96 211.65,87.02 212.22,86.97 212.80,86.52 213.37,86.98 213.95,86.17 214.52,86.81 215.10,86.37 215.67,85.86 216.25,86.26 216.82,85.91 217.40,86.51 217.97,86.17 218.55,86.05 219.12,86.35 219.70,86.57 220.27,86.60 220.85,86.44 221.42,86.83 222.00,87.08 222.57,86.86 223.15,86.48 223.72,86.87 224.30,87.14 224.87,86.30 225.45,86.07 226.02,86.51 226.60,86.56 227.30,86.50 227.60,81.87 227.90,86.40 228.32,86.37 228.90,86.25 229.47,86.48 230.05,86.99 230.62,86.90 231.20,86.98 231.77,86.93 232.35,86.57 232.92,86.20 233.50,86.44 234.07,86.09 234.65,86.87 235.22,86.54 235.80,86.62 236.37,86.10 236.95,86.41 237.52,85.98 238.10,86.42 238.67,86.12 239.25,86.15 239.82,85.84 240.40,86.14 240.97,86.36 241.55,86.06 242.12,86.42 242.70,86.54 243.27,86.45 243.85,85.95 244.42,85.91 245.00,86.50 245.57,86.54 246.15,86.43 246.72,86.63 247.30,86.16 247.87,86.11 248.45,86.04 249.02,86.94" stroke="#ff7070"/>
<path d="M19.60,65.98 20.18,66.39 20.75,66.52 21.33,65.97 21.90,65.61 22.48,65.82 23.05,66.63 23.62,66.95 24.20,66.08 24.78,65.59 25.35,65.26 25.93,65.31 26.50,65.83 27.08,65.56 27.65,65.55 28.23,65.81 28.80,65.01 29.38,65.04 29.95,65.41 30.52,65.33 31.10,65.38 31.68,65.57 32.25,65.71 32.83,65.85 33.40,65.69 33.98,65.70 34.55,65.48 35.12,65.75 35.70,65.60 36.27,65.19 36.85,65.01 37.42,64.99 38.00,65.11 38.58,65.48 39.15,65.39 39.73,64.60 40.30,64.94 40.88,64.39 41.45,64.90 42.02,64.76 42.60,65.04 43.17,65.48 43.75,64.68 44.33,64.55 44.90,65.37 45.47,64.73 46.05,65.38 46.62,64.95 47.20,64.65 47.77,64.26 48.35,64.09 48.92,64.65 49.50,65.04 50.08,64.55 50.65,64.51 51.22,64.94 51.80,64.42 52.38,64.32 52.95,64.23 53.52,64.53 54.10,64.54 54.67,64.04 55.25,65.21 55.82,64.35 56.40,64.79 56.98,64.58 57.55,64.46 58.12,64.02 58.70,64.12 59.27,64.14 59.85,63.80 60.42,64.64 61.00,64.05 61.57,63.60 62.15,64.73 62.40,63.97 62.70,61.83 63.00,63.72 63.30,64.66 63.88,63.76 64.45,63.66 65.03,64.05 65.60,63.35 66.17,63.83 66.75,64.14 67.32,63.49 67.90,63.04 68.47,62.75 69.05,62.08 69.62,60.86 70.20,58.82 70.78,56.02 71.35,52.45 71.92,50.19 72.50,49.98 73.07,50.45 73.65,52.30 74.22,53.78 74.80,55.31 75.38,56.19 75.95,57.15 76.53,58.25 77.10,58.84 77.67,59.70 78.25,60.73 78.82,61.01 79.40,61.17 79.97,60.45 80.55,61.26 81.12,61.77 81.70,62.22 82.28,62.25 82.85,62.68 83.42,62.75 84.00,63.24 84.57,63.77 85.15,63.53 85.72,63.07 86.30,63.72 86.88,63.14 87.45,63.61 88.03,64.06 88.60,63.79 89.17,63.37 89.75,63.32 90.32,63.20 90.90,63.80 91.47,63.65 92.05,63.97 92.62,64.11 93.20,63.61 93.78,63.32 94.35,63.39 94.92,63.58 95.50,63.27 96.07,63.83 96.65,64.05 97.22,62.88 97.80,63.11 98.38,63.18 98.95,63.76 99.53,63.27 100.10,63.58 100.67,63.27 101.25,63.66 101.82,63.46 102.40,63.37 102.97,63.70 103.55,63.31 104.12,63.88 104.70,63.80 105.28,63.66 105.85,63.47 106.42,63.52 107.00,63.90 107.57,63.26 108.15,64.47 108.72,63.75 109.30,63.60 109.88,63.51 110.45,63.64 111.03,63.39 111.60,63.68 112.17,63.94 112.75,64.14 113.32,63.69 113.90,63.96 114.47,64.07 115.05,64.00 115.62,64.00 116.20,63.91 116.78,63.53 117.35,63.72 117.92,64.16 118.50,63.93 119.07,64.34 119.65,63.94 120.22,63.91 120.80,63.36 121.38,64.18 121.95,63.95 122.53,63.60 123.10,63.68 123.67,64.12 124.25,64.23 124.82,64.33 125.40,64.19 125.97,64.16 126.55,64.85 127.12,64.98 127.70,64.42 128.28,64.16 128.85,64.03 129.42,64.24 130.00,63.90 130.57,64.46 131.15,64.26 131.72,64.56 132.30,64.46 132.88,64.62 133.45,64.48 134.03,64.52 134.60,64.06 135.17,64.33 135.75,63.68 136.32,64.14 136.90,63.63 137.47,64.37 138.05,64.56 138.62,64.82 139.20,64.82 139.78,63.71 140.35,64.06 140.92,63.99 141.50,64.08 142.07,63.84 142.65,63.86 143.22,64.51 143.80,64.45 144.38,64.42 144.95,64.71 145.53,65.17 146.10,64.86 146.67,64.57 147.25,64.54 147.82,63.77 148.40,63.94 148.97,64.53 149.55,64.72 150.12,64.39 150.70,64.68 151.27,64.71 151.85,64.50 152.42,64.21 153.00,64.32 153.57,64.41 154.15,64.89 154.72,63.86 155.30,64.52 155.87,64.42 156.45,65.20 157.02,64.55 157.60,64.61 158.17,64.92 158.75,64.83 159.32,64.91 159.90,64.68 160.47,64.46 161.05,64.24 161.62,64.01 162.20,64.65 162.77,64.69 163.35,64.76 163.92,64.05 164.50,64.32 165.07,65.24 165.65,64.76 166.22,64.63 166.80,64.63 167.37,64.44 167.95,64.29 168.52,65.11 169.10,65.42 169.67,64.93 170.25,64.46 170.82,65.00 171.40,64.66 171.97,65.12 172.55,64.88 173.12,65.20 173.70,64.41 174.27,64.82 174.85,65.31 175.42,64.89 176.00,64.88 176.57,65.41 177.15,64.43 177.72,64.76 178.30,64.61 178.87,64.81 179.45,65.32 180.02,64.85 180.60,65.31 181.17,64.84 181.75,64.53 182.32,64.91 182.90,65.00 183.47,64.25 184.05,64.73 184.62,64.58 185.20,64.76 185.77,65.16 186.35,65.15 186.92,64.99 187.50,64.77 188.07,64.99 188.65,64.96 189.22,65.33 189.80,64.90 190.37,64.61 190.95,64.87 191.52,64.84 192.10,65.10 192.67,65.03 193.25,65.00 193.82,64.71 194.40,64.87 194.97,64.64 195.55,64.99 196.12,64.59 196.70,65.12 197.27,65.71 197.85,65.91 198.42,65.21 199.00,64.62 199.57,65.05 200.15,64.92 200.72,65.61 201.30,64.82 201.87,65.23 202.45,64.37 203.02,64.41 203.60,64.51 204.17,64.98 204.75,65.13 205.32,64.93 205.90,65.24 206.47,65.13 207.05,65.74 207.62,65.34 208.20,64.41 208.77,64.84 209.35,65.28 209.92,65.16 210.50,65.01 211.07,64.93 211.65,65.05 212.22,64.14 212.80,64.85 213.37,64.76 213.95,64.49 214.52,64.84 215.10,64.27 215.67,64.84 216.25,64.82 216.82,65.10 217.40,65.36 217.97,64.86 218.55,64.69 219.12,64.49 219.70,64.68 220.27,64.75 220.85,65.01 221.42,65.06 222.00,64.83 222.57,64.92 223.15,65.02 223.72,64.78 224.30,65.14 224.60,62.52 224.90,64.91 225.45,65.14 226.02,64.28 226.60,63.99 227.30,64.48 227.60,58.46 227.90,65.12 228.32,65.50 228.90,65.11 229.47,65.03 230.05,64.63 230.62,64.33 231.20,64.87 231.77,65.24 232.35,65.29 232.92,64.97 233.50,65.32 234.07,65.06 234.65,64.54 235.22,65.00 235.80,65.18 236.37,64.73 236.95,64.83 237.52,64.96 238.10,64.42 238.67,64.60 239.25,64.84 239.82,64.48 240.40,64.41 240.97,65.00 241.55,64.83 242.12,64.54 242.70,64.59 243.27,65.41 243.85,65.07 244.42,65.06 245.00,64.48 245.57,64.86 246.15,64.66 246.72,65.36 247.30,65.14 247.87,65.22 248.45,65.13 249.02,64.86" stroke="#ff3a3a"/>
</g>
<rect x="19.00" y="11.90" width="230.40" height="196.70" fill="none" stroke="#1c1c1c" stroke-width="1.25"/>
<path d="M19.00,208.60 V204.10 M76.60,208.60 V204.10 M134.20,208.60 V204.10 M191.80,208.60 V204.10 M249.40,208.60 V204.10 M19.00,13.80 H23.50 M19.00,52.50 H23.50 M19.00,91.20 H23.50 M19.00,129.80 H23.50 M19.00,168.50 H23.50 M19.00,207.20 H23.50" stroke="#1c1c1c" stroke-width="1.2" fill="none"/>
<path d="M345.60,32.30 V208.60" stroke="#dadada" stroke-width="1.2" fill="none"/>
<path d="M345.60,32.30 V208.60" stroke="#9a9a9a" stroke-width="1.2" stroke-dasharray="1 1.2" fill="none"/>
<path d="M361.10,12.00 V208.60" stroke="#dadada" stroke-width="1.2" fill="none"/>
<path d="M361.10,12.00 V208.60" stroke="#9a9a9a" stroke-width="1.2" stroke-dasharray="1 1.2" fill="none"/>
<path d="M369.40,32.30 V208.60" stroke="#dadada" stroke-width="1.2" fill="none"/>
<path d="M369.40,32.30 V208.60" stroke="#9a9a9a" stroke-width="1.2" stroke-dasharray="1 1.2" fill="none"/>
<path d="M466.00,12.00 V208.60" stroke="#dadada" stroke-width="1.2" fill="none"/>
<path d="M466.00,12.00 V208.60" stroke="#9a9a9a" stroke-width="1.2" stroke-dasharray="1 1.2" fill="none"/>
<g fill="none" stroke-width="1.0" stroke-linejoin="round">
<path d="M308.60,194.93 309.18,194.81 309.75,194.66 310.33,194.47 310.90,194.77 311.48,194.45 312.05,194.93 312.62,194.70 313.20,194.63 313.78,194.62 314.35,194.49 314.93,194.88 315.50,194.83 316.08,195.19 316.65,194.48 317.23,194.95 317.80,194.47 318.38,194.55 318.95,193.96 319.53,194.47 320.10,193.90 320.68,194.26 321.25,194.43 321.83,194.45 322.40,194.57 322.98,194.60 323.55,194.51 324.12,194.00 324.70,194.16 325.28,193.95 325.85,194.09 326.43,194.50 327.00,194.19 327.58,193.33 328.15,193.90 328.73,194.04 329.30,193.71 329.88,194.04 330.45,193.01 331.03,192.83 331.60,193.11 332.18,191.86 332.75,191.28 333.33,192.26 333.90,191.91 334.48,192.47 335.05,192.13 335.62,191.73 336.20,191.40 336.78,190.47 337.35,189.83 337.93,190.31 338.50,189.90 339.08,188.84 339.65,188.60 340.23,188.87 340.80,188.80 341.38,188.17 341.95,187.65 342.53,188.03 343.10,187.89 343.68,187.44 344.25,187.45 344.83,187.40 345.40,187.80 345.98,187.51 346.55,187.71 347.12,188.20 347.70,189.20 348.28,189.99 348.85,189.73 349.43,190.79 350.00,191.70 350.58,192.02 351.15,192.81 351.73,192.89 352.30,193.44 352.88,193.38 353.45,193.17 354.03,193.29 354.60,193.54 355.18,193.21 355.75,193.18 356.33,193.30 356.90,194.08 357.48,193.51 358.05,193.74 358.62,193.23 359.20,193.37 359.78,193.27 360.35,193.20 360.93,193.18 361.50,193.23 362.08,192.76 362.65,193.25 363.23,193.15 363.80,192.66 364.38,193.02 364.95,192.82 365.53,192.91 366.10,192.99 366.68,192.80 367.25,192.38 367.83,192.96 368.40,192.95 368.98,192.93 369.55,193.38 370.12,192.92 370.70,193.01 371.28,193.30 371.85,193.41 372.43,193.29 373.00,193.03 373.58,192.83 374.15,192.81 374.73,193.17 375.30,192.95 375.88,192.53 376.45,192.64 377.03,192.26 377.60,192.01 378.18,192.56 378.75,192.63 379.33,193.15 379.90,192.66 380.48,192.83 381.05,192.47 381.62,192.33 382.20,193.42 382.78,193.12 383.35,192.90 383.93,192.45 384.50,192.88 385.08,192.29 385.65,192.83 386.23,192.89 386.80,192.54 387.38,192.84 387.95,192.82 388.53,192.74 389.10,193.13 389.68,193.28 390.25,193.15 390.83,193.06 391.40,193.49 391.98,193.05 392.55,192.99 393.12,193.20 393.70,192.81 394.28,193.20 394.85,193.50 395.43,193.38 396.00,194.00 396.58,193.04 397.15,193.10 397.73,192.90 398.30,193.25 398.88,193.21 399.45,193.18 400.03,192.78 400.60,193.40 401.18,193.63 401.75,192.93 402.33,193.58 402.90,193.25 403.48,193.25 404.05,193.56 404.62,193.13 405.20,193.45 405.78,193.17 406.35,193.26 406.93,193.72 407.50,193.88 408.08,194.12 408.65,193.51 409.23,193.28 409.80,193.10 410.38,193.16 410.95,193.68 411.53,193.59 412.10,194.20 412.68,194.18 413.25,194.30 413.83,193.63 414.40,192.84 414.98,193.27 415.55,193.70 416.12,193.60 416.70,193.47 417.28,193.08 417.85,193.46 418.43,194.26 419.00,194.20 419.58,193.64 420.15,193.31 420.73,193.81 421.30,193.88 421.88,193.25 422.45,193.92 423.03,193.64 423.60,193.50 424.18,193.69 424.75,193.46 425.33,193.05 425.90,192.48 426.48,192.50 427.05,193.50 427.62,192.93 428.20,193.01 428.78,193.00 429.35,192.85 429.93,193.06 430.50,192.10 431.08,192.95 431.65,192.43 432.23,192.57 432.80,192.52 433.38,192.53 433.95,193.04 434.53,192.43 435.10,192.35 435.68,192.77 436.25,192.20 436.83,191.71 437.40,192.25 437.98,192.25 438.55,191.93 439.12,191.73 439.70,192.21 440.27,192.40 440.85,191.60 441.43,191.34 442.00,191.60 442.58,191.04 443.15,191.01 443.73,190.78 444.30,190.91 444.88,190.99 445.45,189.92 446.02,189.28 446.60,189.07 447.18,188.59 447.75,188.50 448.33,188.64 448.90,187.52 449.48,187.56 450.05,186.61 450.62,186.69 451.20,185.83 451.77,185.34 452.35,184.04 452.93,183.07 453.50,182.41 454.08,181.11 454.65,179.57 455.23,178.00 455.80,176.13 456.38,173.18 456.95,170.28 457.52,166.84 458.10,163.23 458.68,158.76 459.25,152.78 459.83,145.80 460.40,136.93 460.98,126.23 461.55,111.99 462.12,95.95 462.70,77.36 463.27,57.51 463.85,38.76 464.43,26.14 464.90,22.85 465.58,30.47 466.15,45.44 466.73,65.18 467.30,84.62 467.88,102.59 468.45,117.61 469.02,130.65 469.60,139.99 470.18,147.61 470.75,155.01 471.33,160.33 471.90,164.38 472.48,168.52 473.05,171.38 473.62,173.40 474.20,175.77 474.77,177.95 475.35,179.85 475.93,180.97 476.50,182.09 477.08,183.29 477.65,183.98 478.23,184.80 478.80,186.31 479.38,186.67 479.95,187.44 480.52,187.52 481.10,188.80 481.68,188.77 482.25,188.63 482.83,189.50 483.40,189.97 483.98,189.97 484.55,190.14 485.12,189.99 485.70,189.77 486.27,191.06 486.85,191.28 487.43,191.31 488.00,191.56 488.58,191.45 489.15,191.53 489.73,191.45 490.30,191.28 490.88,191.45 491.45,192.10 492.02,191.51 492.60,191.89 493.18,191.63 493.75,192.57 494.33,192.11 494.90,192.34 495.48,192.54 496.05,192.38 496.62,192.20 497.20,192.72 497.77,192.65 498.35,192.57 498.93,193.23 499.50,192.70 500.08,193.08 500.65,192.71 501.23,193.08 501.80,193.70 502.38,192.67 502.95,193.07 503.52,193.55 504.10,193.81 504.68,193.69 505.25,193.93 505.83,193.69 506.40,193.75 506.98,193.93 507.55,193.46 508.12,194.29 508.70,193.82 509.27,193.34 509.85,194.04 510.43,193.87 511.00,193.84 511.58,193.34 512.15,194.29 512.73,193.77 513.30,194.29 513.88,194.65 514.45,194.31 515.02,194.44 515.60,194.33 516.17,193.94 516.70,194.39 517.00,188.61 517.30,193.98 517.90,194.51 518.48,195.14 519.05,195.21 519.62,194.84 520.20,195.01 520.77,195.30 521.35,194.88 521.92,195.11 522.50,195.00 523.08,195.23 523.65,195.50 524.23,195.28 524.80,195.20 525.38,195.26 525.95,195.19 526.52,195.48 527.10,195.49 527.67,194.85 528.25,195.21 528.83,195.67 529.40,195.63 529.98,195.32 530.55,195.91 531.12,195.60 531.70,195.41 532.27,195.77 532.85,196.01 533.42,196.25 534.00,196.74 534.58,196.38 535.15,195.50 535.73,196.23 536.30,196.29 536.88,195.88 537.45,195.54 538.02,195.63" stroke="#4c4cff"/>
<path d="M308.60,180.07 309.18,179.97 309.75,180.08 310.33,179.82 310.90,179.73 311.48,179.17 312.05,178.97 312.62,179.57 313.20,178.95 313.78,179.62 314.35,179.42 314.93,179.38 315.50,179.12 316.08,179.23 316.65,179.17 317.23,179.31 317.80,179.30 318.38,179.15 318.95,179.22 319.53,179.53 320.10,179.33 320.68,179.50 321.25,179.31 321.83,178.74 322.40,179.50 322.98,179.32 323.55,179.59 324.12,179.43 324.70,178.78 325.28,179.16 325.85,179.03 326.43,178.33 327.00,178.58 327.58,178.45 328.15,178.98 328.73,178.93 329.30,177.90 329.88,178.10 330.45,178.38 331.03,178.04 331.60,177.54 332.18,178.02 332.75,176.96 333.33,177.75 333.90,177.71 334.48,177.21 335.05,177.34 335.62,176.04 336.20,175.96 336.78,175.98 337.35,175.55 337.93,175.32 338.50,175.12 339.08,174.67 339.65,174.82 340.23,174.93 340.80,174.41 341.38,173.68 341.95,173.37 342.53,173.30 343.10,173.38 343.68,173.35 344.25,172.82 344.83,173.62 345.40,172.77 345.98,173.29 346.55,173.85 347.12,174.24 347.70,174.73 348.28,174.94 348.85,176.02 349.43,176.40 350.00,176.41 350.58,177.03 351.15,177.56 351.73,177.36 352.30,177.70 352.88,177.41 353.45,178.56 354.03,177.66 354.60,178.09 355.18,178.38 355.75,178.15 356.33,178.04 356.90,178.06 357.48,177.54 358.05,177.66 358.62,177.65 359.20,178.28 359.78,177.70 360.35,177.89 360.93,177.55 361.50,177.34 362.08,177.93 362.65,178.01 363.23,177.71 363.80,177.60 364.38,177.61 364.95,177.43 365.53,177.10 366.10,177.75 366.68,177.36 367.25,176.88 367.83,176.85 368.40,177.17 368.98,178.02 369.55,178.08 370.12,177.54 370.70,176.75 371.28,176.89 371.85,176.68 372.43,176.84 373.00,177.11 373.58,177.27 374.15,176.83 374.73,176.66 375.30,176.97 375.88,176.38 376.45,176.86 377.03,176.84 377.60,177.03 378.18,176.48 378.75,176.98 379.33,177.15 379.90,176.38 380.48,176.54 381.05,175.98 381.62,176.73 382.20,177.52 382.78,177.08 383.35,176.83 383.93,176.54 384.50,176.95 385.08,177.02 385.65,176.78 386.23,176.40 386.80,176.65 387.38,176.83 387.95,177.22 388.53,177.25 389.10,177.25 389.68,177.21 390.25,177.27 390.83,177.09 391.40,176.44 391.98,176.66 392.55,177.20 393.12,177.09 393.70,176.92 394.28,177.21 394.85,177.07 395.43,177.06 396.00,177.15 396.58,177.33 397.15,177.31 397.73,176.91 398.30,176.83 398.88,176.49 399.45,176.82 400.03,176.69 400.60,176.84 401.18,177.42 401.75,177.01 402.33,177.32 402.90,177.09 403.48,177.21 404.05,176.88 404.62,176.87 405.20,177.36 405.78,177.32 406.35,177.56 406.93,177.41 407.50,176.37 408.08,176.68 408.65,177.30 409.23,177.56 409.80,177.33 410.38,176.97 410.95,176.69 411.53,177.18 412.10,177.45 412.68,177.48 413.25,177.86 413.83,176.92 414.40,177.15 414.98,177.13 415.55,176.88 416.12,176.60 416.70,176.91 417.28,177.32 417.85,177.04 418.43,176.83 419.00,177.30 419.58,177.01 420.15,177.43 420.73,176.77 421.30,176.58 421.88,177.27 422.45,177.50 423.03,176.79 423.60,176.87 424.18,177.07 424.75,176.45 425.33,176.43 425.90,176.53 426.48,176.56 427.05,176.40 427.62,176.19 428.20,176.14 428.78,176.83 429.35,176.24 429.93,175.69 430.50,177.11 431.08,176.69 431.65,176.42 432.23,176.16 432.80,176.40 433.38,176.52 433.95,175.89 434.53,175.71 435.10,175.33 435.68,176.09 436.25,175.43 436.83,175.58 437.40,175.42 437.98,174.88 438.55,175.36 439.12,175.43 439.70,174.61 440.27,175.05 440.85,175.27 441.43,174.62 442.00,174.88 442.58,174.92 443.15,174.73 443.73,173.74 444.30,173.84 444.88,173.73 445.45,173.17 446.02,173.12 446.60,172.57 447.18,172.93 447.75,172.28 448.33,171.33 448.90,171.65 449.48,170.63 450.05,170.41 450.62,169.99 451.20,168.77 451.77,169.12 452.35,167.37 452.93,166.55 453.50,165.87 454.08,163.55 454.65,162.33 455.23,161.12 455.80,159.05 456.38,156.89 456.95,154.11 457.52,150.91 458.10,147.82 458.68,142.82 459.25,136.93 459.83,130.84 460.40,122.73 460.98,112.78 461.55,100.97 462.12,87.06 462.70,71.78 463.27,56.79 463.85,43.07 464.43,33.67 464.90,31.14 465.58,37.41 466.15,47.73 466.73,62.68 467.30,78.34 467.88,92.84 468.45,105.54 469.02,116.80 469.60,125.73 470.18,133.06 470.75,139.94 471.33,144.52 471.90,148.57 472.48,151.78 473.05,154.83 473.62,157.66 474.20,159.23 474.77,161.32 475.35,162.87 475.93,163.84 476.50,165.82 477.08,166.73 477.65,167.84 478.23,168.42 478.80,169.30 479.38,169.79 479.95,170.51 480.52,171.18 481.10,170.77 481.68,171.76 482.25,172.19 482.83,172.44 483.40,172.22 483.98,172.76 484.55,173.44 485.12,173.71 485.70,173.02 486.27,173.39 486.85,174.40 487.43,174.11 488.00,174.18 488.58,174.85 489.15,174.55 489.73,174.66 490.30,174.55 490.88,174.65 491.45,174.97 492.02,175.53 492.60,175.38 493.18,176.05 493.75,175.67 494.33,175.34 494.90,175.63 495.48,175.51 496.05,175.06 496.62,174.95 497.20,175.20 497.77,176.10 498.35,175.61 498.93,175.77 499.50,175.97 500.08,175.53 500.65,175.95 501.23,175.27 501.80,174.97 502.38,176.35 502.95,176.19 503.52,175.68 504.10,175.57 504.68,175.93 505.25,176.39 505.83,176.54 506.40,176.75 506.98,175.91 507.55,176.10 508.12,175.85 508.70,177.05 509.27,176.37 509.85,176.91 510.43,176.60 511.00,177.05 511.58,176.97 512.15,177.17 512.73,176.57 513.30,176.99 513.88,177.16 514.45,176.95 515.02,177.06 515.60,176.96 516.17,176.67 516.70,177.53 517.00,173.01 517.30,176.92 517.90,177.19 518.48,176.27 519.05,176.45 519.62,177.08 520.20,177.03 520.77,177.38 521.35,177.50 521.92,177.28 522.50,177.36 523.08,177.74 523.65,177.31 524.23,176.96 524.80,177.26 525.38,177.08 525.95,177.68 526.52,178.36 527.10,178.05 527.67,178.56 528.25,177.83 528.83,177.59 529.40,177.71 529.98,178.06 530.55,178.10 531.12,177.50 531.70,177.94 532.27,178.10 532.85,177.14 533.42,177.43 534.00,177.27 534.58,177.41 535.15,177.55 535.73,177.66 536.30,178.11 536.88,178.59 537.45,178.05 538.02,177.99" stroke="#7474ff"/>
<path d="M308.60,164.10 309.18,163.53 309.75,163.64 310.33,163.94 310.90,163.45 311.48,162.89 312.05,162.92 312.62,163.76 313.20,164.05 313.78,163.77 314.35,163.69 314.93,163.88 315.50,163.01 316.08,162.83 316.65,162.50 317.23,162.95 317.80,163.04 318.38,163.26 318.95,162.60 319.53,163.03 320.10,162.96 320.68,162.83 321.25,162.85 321.83,163.07 322.40,162.17 322.98,162.68 323.55,162.64 324.12,162.70 324.70,163.12 325.28,162.23 325.85,162.39 326.43,162.28 327.00,162.29 327.58,162.48 328.15,162.42 328.73,162.13 329.30,162.27 329.88,162.26 330.45,162.10 331.03,161.74 331.60,162.11 332.18,161.83 332.75,161.60 333.33,161.44 333.90,161.33 334.48,162.07 335.05,161.77 335.62,161.37 336.20,161.11 336.78,161.11 337.35,161.03 337.93,161.11 338.50,160.26 339.08,160.31 339.65,160.15 340.23,160.26 340.80,159.72 341.38,159.65 341.95,159.12 342.53,160.15 343.10,159.52 343.68,159.30 344.25,160.07 344.83,159.11 345.40,158.36 345.98,159.51 346.55,159.80 347.12,159.76 347.70,159.64 348.28,159.91 348.85,159.04 349.43,158.48 350.00,158.97 350.58,159.75 351.15,159.66 351.73,159.42 352.30,159.59 352.88,159.85 353.45,159.56 354.03,159.46 354.60,159.61 355.18,159.29 355.75,158.89 356.33,158.61 356.90,158.68 357.48,158.61 358.05,158.87 358.62,158.73 359.20,158.34 359.78,158.14 360.35,158.38 360.93,158.05 361.50,158.05 362.08,157.47 362.65,157.55 363.23,157.27 363.80,156.86 364.38,156.41 364.95,156.90 365.53,157.25 366.10,157.37 366.68,157.11 367.25,157.04 367.83,156.72 368.40,157.23 368.98,157.23 369.55,157.46 370.12,157.56 370.70,157.99 371.28,158.28 371.85,158.14 372.43,158.81 373.00,159.00 373.58,159.52 374.15,159.64 374.73,159.42 375.30,159.81 375.88,159.29 376.45,158.67 377.03,159.18 377.60,159.19 378.18,158.96 378.75,158.84 379.33,159.81 379.90,159.24 380.48,159.33 381.05,159.39 381.62,159.71 382.20,159.84 382.78,160.16 383.35,159.27 383.93,159.51 384.50,159.41 385.08,159.83 385.65,159.62 386.23,159.74 386.80,160.35 387.38,159.95 387.95,159.86 388.53,160.36 389.10,160.59 389.68,159.52 390.25,159.76 390.83,159.40 391.40,160.11 391.98,159.89 392.55,159.84 393.12,160.36 393.70,160.76 394.28,160.60 394.85,159.87 395.43,160.09 396.00,159.86 396.58,161.10 397.15,160.62 397.73,160.11 398.30,160.56 398.88,161.36 399.45,160.61 400.03,160.20 400.60,160.64 401.18,160.90 401.75,161.03 402.33,161.54 402.90,160.49 403.48,160.92 404.05,160.65 404.62,160.24 405.20,160.68 405.78,161.09 406.35,161.17 406.93,160.98 407.50,161.34 408.08,161.11 408.65,161.35 409.23,161.18 409.80,161.16 410.38,160.79 410.95,161.14 411.53,161.27 412.10,161.63 412.68,161.45 413.25,160.94 413.83,161.55 414.40,161.53 414.98,161.54 415.55,161.08 416.12,161.16 416.70,161.20 417.28,161.07 417.85,161.30 418.43,160.86 419.00,160.81 419.58,161.53 420.15,161.01 420.73,161.91 421.30,161.48 421.88,161.10 422.45,161.54 423.03,160.97 423.60,161.54 424.18,160.91 424.75,161.50 425.33,161.04 425.90,160.81 426.48,161.49 427.05,161.55 427.62,160.98 428.20,160.90 428.78,160.49 429.35,160.70 429.93,161.02 430.50,160.72 431.08,160.61 431.65,160.13 432.23,160.71 432.80,160.35 433.38,160.72 433.95,160.96 434.53,160.42 435.10,160.11 435.68,160.13 436.25,160.12 436.83,159.72 437.40,159.69 437.98,158.96 438.55,159.63 439.12,159.38 439.70,159.87 440.27,159.22 440.85,159.21 441.43,159.13 442.00,158.89 442.58,159.13 443.15,158.56 443.73,158.28 444.30,158.15 444.88,157.77 445.45,157.71 446.02,156.93 446.60,157.01 447.18,155.98 447.75,155.91 448.33,155.37 448.90,154.96 449.48,154.67 450.05,154.19 450.62,153.67 451.20,152.46 451.77,152.60 452.35,151.41 452.93,150.29 453.50,149.10 454.08,148.37 454.65,146.43 455.23,145.07 455.80,143.52 456.38,141.23 456.95,138.68 457.52,135.82 458.10,133.13 458.68,129.28 459.25,125.07 459.83,119.72 460.40,113.41 460.98,104.76 461.55,96.20 462.12,85.24 462.70,73.49 463.27,61.58 463.85,51.18 464.43,44.52 464.90,42.48 465.58,46.50 466.15,54.36 466.73,66.65 467.30,78.32 467.88,89.84 468.45,99.66 469.02,108.14 469.60,114.87 470.18,121.21 470.75,125.41 471.33,130.30 471.90,133.74 472.48,137.30 473.05,140.09 473.62,142.14 474.20,144.18 474.77,145.70 475.35,147.74 475.93,148.38 476.50,149.88 477.08,150.21 477.65,151.74 478.23,152.62 478.80,153.22 479.38,154.02 479.95,154.77 480.52,155.06 481.10,155.66 481.68,156.61 482.25,157.13 482.83,157.44 483.40,157.09 483.98,157.82 484.55,157.95 485.12,158.00 485.70,158.30 486.27,158.88 486.85,158.78 487.43,158.70 488.00,158.89 488.58,159.37 489.15,159.21 489.73,159.39 490.30,159.70 490.88,159.87 491.45,159.27 492.02,159.68 492.60,160.17 493.18,160.60 493.75,160.56 494.33,160.40 494.90,160.27 495.48,160.62 496.05,160.93 496.62,161.18 497.20,161.17 497.77,160.62 498.35,160.99 498.93,161.57 499.50,161.51 500.08,161.33 500.65,161.30 501.23,161.18 501.80,161.35 502.38,161.60 502.95,161.10 503.52,161.19 504.10,161.38 504.68,161.12 505.25,161.34 505.83,161.47 506.40,161.64 506.98,161.90 507.55,161.95 508.12,161.82 508.70,162.02 509.27,161.63 509.85,162.04 510.43,161.65 511.00,162.37 511.58,161.86 512.15,161.96 512.73,161.87 513.30,161.94 513.88,161.93 514.45,161.75 515.02,161.77 515.60,162.23 516.17,162.43 516.70,162.04 517.00,159.95 517.30,162.07 517.90,162.01 518.48,161.76 519.05,162.13 519.62,162.84 520.20,161.92 520.77,162.08 521.35,162.49 521.92,162.00 522.50,162.25 523.08,162.87 523.65,162.18 524.23,162.51 524.80,162.90 525.38,162.79 525.95,161.83 526.52,162.12 527.10,162.28 527.67,162.22 528.25,162.08 528.83,162.22 529.40,162.13 529.98,162.14 530.55,162.22 531.12,162.10 531.70,162.15 532.27,162.91 532.85,162.73 533.42,162.46 534.00,161.90 534.58,162.05 535.15,162.57 535.73,162.21 536.30,162.24 536.88,162.28 537.45,162.21 538.02,162.50" stroke="#9a9aff"/>
<path d="M308.60,148.20 309.18,148.12 309.75,147.54 310.33,147.42 310.90,147.60 311.48,147.09 312.05,147.61 312.62,147.09 313.20,147.25 313.78,146.80 314.35,147.15 314.93,147.43 315.50,147.49 316.08,147.25 316.65,146.30 317.23,146.65 317.80,146.93 318.38,147.34 318.95,147.05 319.53,147.27 320.10,147.16 320.68,146.82 321.25,147.41 321.83,147.33 322.40,147.08 322.98,147.22 323.55,147.67 324.12,147.18 324.70,146.65 325.28,147.14 325.85,146.25 326.43,146.76 327.00,147.23 327.58,147.08 328.15,146.96 328.73,146.54 329.30,146.37 329.88,146.72 330.45,146.29 331.03,147.26 331.60,146.83 332.18,147.17 332.75,147.26 333.33,146.86 333.90,147.10 334.48,146.90 335.05,146.76 335.62,146.59 336.20,146.40 336.78,146.63 337.35,146.47 337.93,145.94 338.50,146.39 339.08,146.34 339.65,145.78 340.23,146.34 340.80,145.96 341.38,145.79 341.95,146.32 342.53,145.38 343.10,146.87 343.68,145.91 344.25,146.84 344.83,145.71 345.40,145.80 345.98,145.42 346.55,145.54 347.12,145.69 347.70,146.06 348.28,145.70 348.85,146.19 349.43,145.80 350.00,146.55 350.58,146.18 351.15,145.96 351.70,145.94 352.00,144.68 352.30,145.44 352.88,146.06 353.45,145.67 354.03,145.92 354.60,146.04 355.18,145.31 355.75,145.40 356.33,145.17 356.90,145.07 357.48,145.45 358.05,145.46 358.62,145.24 359.20,144.09 359.78,143.41 360.35,143.16 360.93,143.04 361.50,143.28 362.08,143.23 362.65,142.46 363.23,143.18 363.80,143.14 364.38,142.25 364.95,141.72 365.53,141.58 366.10,140.78 366.68,140.47 367.25,140.09 367.83,140.42 368.40,139.98 368.98,138.92 369.55,139.52 370.12,139.34 370.70,140.07 371.28,140.95 371.85,141.53 372.43,141.68 373.00,142.79 373.58,143.09 374.15,143.72 374.73,144.43 375.30,144.75 375.88,145.23 376.45,144.90 377.03,145.04 377.60,145.14 378.18,145.61 378.75,145.60 379.33,145.69 379.90,146.20 380.48,145.74 381.05,145.61 381.62,145.67 382.20,145.76 382.78,146.23 383.35,146.13 383.93,145.39 384.50,145.52 385.08,145.12 385.65,145.97 386.23,146.13 386.80,145.20 387.38,145.78 387.95,145.69 388.53,145.69 389.10,145.65 389.68,146.04 390.25,146.37 390.83,146.07 391.40,146.58 391.98,146.64 392.55,146.47 393.12,146.83 393.70,147.08 394.28,146.11 394.85,146.43 395.43,146.63 396.00,146.75 396.58,147.13 397.15,146.47 397.73,146.64 398.30,146.42 398.88,146.88 399.45,146.14 400.03,146.22 400.60,146.70 401.18,146.86 401.75,146.52 402.33,146.56 402.70,147.10 403.00,144.90 403.30,146.58 403.48,146.17 404.05,146.80 404.62,146.67 405.20,146.35 405.78,146.90 406.35,146.70 406.93,146.70 407.50,147.11 408.08,147.30 408.65,146.96 409.23,146.62 409.80,146.86 410.38,146.51 410.95,146.91 411.53,146.52 412.10,146.59 412.68,146.64 413.25,147.10 413.83,147.03 414.40,146.83 414.98,147.02 415.55,146.81 416.12,147.05 416.70,147.25 417.28,147.23 417.85,146.97 418.43,147.46 419.00,147.22 419.58,146.80 420.15,146.87 420.73,147.24 421.30,146.70 421.88,146.78 422.45,146.72 423.03,146.78 423.60,146.80 424.18,146.86 424.75,147.33 425.33,147.78 425.90,147.08 426.48,147.20 427.05,147.65 427.62,147.20 428.20,146.87 428.78,147.09 429.35,147.01 429.93,147.16 430.50,146.94 431.08,146.40 431.65,146.62 432.23,146.52 432.80,146.91 433.38,146.29 433.95,146.45 434.53,146.74 435.10,146.88 435.68,146.02 436.25,146.85 436.83,146.87 437.40,146.68 437.98,146.62 438.55,145.98 439.12,146.57 439.70,146.59 440.27,147.02 440.85,146.77 441.43,147.36 442.00,146.55 442.58,146.31 443.15,147.27 443.73,146.82 444.30,146.22 444.88,146.44 445.45,146.54 446.02,146.26 446.60,146.33 447.18,145.69 447.75,145.89 448.33,145.98 448.90,145.70 449.48,145.86 450.05,145.55 450.62,145.03 451.20,144.60 451.77,143.43 452.35,142.75 452.93,142.22 453.50,140.89 454.08,139.92 454.65,138.52 455.23,136.91 455.80,134.28 456.38,132.75 456.95,130.24 457.52,127.57 458.10,124.31 458.68,121.32 459.25,116.76 459.83,113.13 460.40,109.80 460.98,105.83 461.55,103.29 462.12,100.40 462.70,97.82 463.27,94.56 463.85,93.82 464.43,92.67 465.00,92.33 465.58,93.28 466.15,93.98 466.73,96.18 467.30,98.38 467.88,101.11 468.45,105.20 469.02,108.26 469.60,112.13 470.18,115.42 470.75,119.30 471.33,121.59 471.90,125.39 472.48,128.29 473.05,131.28 473.62,133.69 474.20,135.80 474.77,137.68 475.35,139.98 475.93,141.10 476.50,142.03 477.08,143.09 477.65,143.73 478.23,144.50 478.80,144.65 479.38,145.55 479.95,145.97 480.52,146.58 481.10,146.14 481.68,145.95 482.25,146.12 482.83,146.83 483.40,146.52 483.98,147.22 484.55,146.55 485.12,146.67 485.70,146.59 486.27,147.02 486.85,147.00 487.43,147.06 488.00,147.69 488.58,147.10 489.15,146.98 489.73,147.58 490.30,147.68 490.88,147.86 491.45,147.83 492.02,147.41 492.60,147.28 493.18,147.13 493.75,147.96 494.33,147.05 494.90,147.50 495.48,147.24 496.05,147.23 496.62,147.11 497.20,147.11 497.77,147.70 498.35,146.97 498.93,147.28 499.50,147.66 500.08,147.44 500.65,147.46 501.23,147.70 501.80,147.25 502.38,147.78 502.95,148.02 503.52,148.01 504.10,148.00 504.68,147.68 505.25,148.08 505.83,148.17 506.40,146.98 506.98,147.24 507.55,147.64 508.12,147.11 508.70,147.54 509.27,148.13 509.85,147.63 510.43,147.86 511.00,147.47 511.58,148.11 512.15,148.00 512.73,147.66 513.30,147.86 513.88,147.75 514.45,148.07 515.02,148.04 515.60,148.10 516.17,147.59 516.70,147.57 517.00,145.57 517.30,148.10 517.90,147.74 518.48,147.86 519.05,147.75 519.62,147.74 520.20,148.23 520.77,147.53 521.35,148.14 521.92,148.14 522.50,147.49 523.08,147.89 523.65,147.29 524.23,147.79 524.80,147.28 525.38,147.93 525.95,147.97 526.52,147.77 527.10,148.00 527.67,147.95 528.25,148.25 528.83,148.41 529.40,147.85 529.98,147.80 530.55,147.46 531.12,147.81 531.70,148.08 532.27,147.38 532.85,147.78 533.42,148.18 534.00,148.59 534.58,148.22 535.15,147.67 535.73,148.13 536.30,148.32 536.88,148.12 537.45,147.36 538.02,147.46" stroke="#9898c4"/>
<path d="M308.60,132.16 309.18,132.30 309.75,132.08 310.33,132.07 310.90,131.84 311.48,132.10 312.05,132.05 312.62,131.90 313.20,132.16 313.78,132.05 314.35,132.49 314.93,132.34 315.50,132.74 316.08,132.09 316.65,132.06 317.23,131.78 317.80,131.95 318.38,132.15 318.95,131.94 319.53,132.05 320.10,131.75 320.68,132.07 321.25,131.56 321.83,132.23 322.40,131.92 322.98,131.58 323.55,131.09 324.12,131.42 324.70,132.35 325.28,131.95 325.85,131.32 326.43,131.33 327.00,130.86 327.58,131.74 328.15,131.18 328.73,131.31 329.30,131.59 329.88,131.38 330.45,130.62 331.03,131.33 331.60,131.63 332.18,130.88 332.75,131.29 333.33,131.11 333.90,131.01 334.48,130.80 335.05,132.00 335.62,131.35 336.20,130.70 336.78,131.38 337.35,130.93 337.93,131.28 338.50,130.96 339.08,130.31 339.65,130.86 340.23,130.71 340.80,131.62 341.38,131.41 341.95,130.58 342.53,130.68 343.10,130.55 343.68,129.97 344.25,130.50 344.83,130.22 345.40,130.11 345.98,130.72 346.55,130.67 347.12,130.26 347.70,130.90 348.28,130.67 348.85,131.60 349.43,130.18 350.00,130.50 350.58,130.25 351.15,130.19 351.70,130.42 352.00,128.71 352.30,130.05 352.88,130.54 353.45,130.79 354.03,130.53 354.60,130.21 355.18,130.28 355.75,129.79 356.33,130.16 356.90,130.23 357.48,129.90 358.05,129.28 358.62,127.74 359.20,127.63 359.78,125.81 360.35,123.80 360.93,120.58 361.50,121.44 362.08,122.12 362.65,122.05 363.23,122.97 363.80,124.15 364.38,123.66 364.95,124.54 365.53,124.04 366.10,123.66 366.68,123.36 367.25,123.90 367.83,124.19 368.40,123.39 368.98,123.41 369.55,123.18 370.12,123.68 370.70,124.83 371.28,124.48 371.85,125.93 372.43,125.88 373.00,127.31 373.58,128.93 374.15,129.00 374.73,129.08 375.30,129.98 375.88,129.39 376.45,129.48 377.03,129.27 377.60,130.00 378.18,130.22 378.75,129.87 379.33,129.98 379.90,129.70 380.48,129.88 381.05,129.79 381.62,130.06 382.20,130.06 382.78,129.72 383.35,130.57 383.93,130.68 384.50,130.97 385.08,130.21 385.65,130.52 386.23,130.48 386.80,131.06 387.38,130.85 387.95,130.91 388.53,130.94 389.10,130.63 389.68,130.13 390.25,129.07 390.83,128.42 391.40,129.18 391.98,130.38 392.55,130.87 393.12,131.18 393.70,130.72 394.28,130.63 394.85,130.65 395.43,130.83 396.00,130.74 396.58,131.32 397.15,130.95 397.73,130.38 398.30,131.19 398.88,131.15 399.45,131.34 400.03,131.32 400.60,130.47 401.18,130.85 401.75,131.23 402.33,131.01 402.70,130.73 403.00,130.00 403.30,130.71 403.48,131.52 404.05,131.24 404.62,131.74 405.20,131.26 405.78,131.28 406.35,132.08 406.93,131.86 407.50,131.55 408.08,131.38 408.65,131.82 409.23,131.01 409.80,131.14 410.38,131.42 410.95,131.06 411.53,130.56 412.10,131.20 412.68,131.19 413.25,131.50 413.83,131.06 414.40,131.32 414.98,130.98 415.55,131.25 416.12,131.19 416.70,131.67 417.28,131.92 417.85,131.34 418.43,131.53 419.00,131.37 419.58,131.33 420.15,131.37 420.73,131.66 421.30,132.04 421.88,131.64 422.45,131.11 423.03,131.28 423.60,131.63 424.18,131.95 424.75,131.38 425.33,132.29 425.90,131.97 426.48,131.80 427.05,131.72 427.62,131.08 428.20,131.98 428.78,131.64 429.35,131.90 429.93,131.58 430.50,131.19 431.08,131.96 431.65,131.71 432.23,131.34 432.80,131.84 433.38,132.00 433.95,131.94 434.53,131.83 435.10,131.54 435.68,131.93 436.25,131.59 436.83,131.83 437.40,132.08 437.98,131.89 438.55,132.20 439.12,131.69 439.70,130.89 440.27,131.31 440.85,131.92 441.43,131.91 442.00,131.59 442.58,131.67 443.15,132.36 443.73,132.64 444.30,132.46 444.88,132.23 445.45,132.23 446.02,131.80 446.60,131.86 447.18,132.56 447.75,132.70 448.33,131.70 448.90,131.93 449.48,132.51 450.05,132.05 450.62,131.88 451.20,131.40 451.77,132.53 452.35,132.03 452.93,131.94 453.50,132.48 454.08,132.10 454.65,132.04 455.23,131.58 455.80,132.40 456.38,132.06 456.95,132.80 457.52,132.69 458.10,131.72 458.68,131.69 459.25,131.87 459.83,131.99 460.40,131.96 460.98,132.09 461.55,131.35 462.12,131.18 462.70,131.65 463.27,131.62 463.85,131.61 464.43,131.91 465.00,131.48 465.58,132.21 466.15,131.80 466.73,131.22 467.30,132.00 467.88,131.88 468.45,131.72 469.02,131.43 469.60,131.72 470.18,131.54 470.75,131.94 471.33,131.88 471.90,131.50 472.48,132.24 473.05,132.50 473.62,132.01 474.20,131.79 474.77,132.01 475.35,131.39 475.93,131.99 476.50,132.35 477.08,132.56 477.65,132.16 478.23,131.57 478.80,131.89 479.38,131.84 479.95,131.11 480.52,131.78 481.10,132.10 481.68,132.18 482.25,131.32 482.83,131.48 483.40,132.08 483.98,131.80 484.55,132.08 485.12,131.93 485.70,131.76 486.27,132.03 486.85,132.20 487.43,132.18 488.00,131.46 488.58,131.66 489.15,131.85 489.73,132.00 490.30,131.63 490.88,131.76 491.45,131.83 492.02,131.68 492.60,131.36 493.18,131.59 493.75,132.09 494.33,132.35 494.90,132.40 495.48,131.51 496.05,131.35 496.62,131.55 497.20,131.65 497.77,132.45 498.35,131.97 498.93,132.27 499.50,131.79 500.08,131.59 500.65,131.82 501.23,131.81 501.80,132.45 502.38,132.02 502.95,131.90 503.52,131.36 504.10,131.94 504.68,132.30 505.25,131.89 505.83,131.94 506.40,131.62 506.98,131.67 507.55,131.64 508.12,132.03 508.70,131.74 509.27,131.76 509.85,131.60 510.43,131.84 511.00,131.40 511.58,131.48 512.15,131.69 512.73,131.67 513.30,131.47 513.88,132.27 514.45,131.61 515.02,131.76 515.60,131.75 516.17,131.57 516.70,131.53 517.00,128.40 517.30,131.81 517.90,131.35 518.48,131.60 519.05,132.16 519.62,131.48 520.20,131.92 520.77,132.10 521.35,131.23 521.92,132.47 522.50,131.49 523.08,132.15 523.65,131.98 524.23,132.02 524.80,131.48 525.38,131.57 525.95,131.76 526.52,132.05 527.10,131.49 527.67,131.98 528.25,132.33 528.83,131.77 529.40,132.18 529.98,132.61 530.55,131.96 531.12,132.32 531.70,131.53 532.27,131.51 532.85,131.71 533.42,131.61 534.00,131.56 534.58,131.42 535.15,131.51 535.73,131.74 536.30,131.39 536.88,132.15 537.45,131.77 538.02,131.30" stroke="#b8949e"/>
<path d="M308.60,115.37 309.18,115.93 309.75,115.45 310.33,115.61 310.90,115.83 311.48,115.54 312.05,116.06 312.62,115.71 313.20,116.11 313.78,116.06 314.35,115.83 314.93,116.53 315.50,115.69 316.08,115.35 316.65,115.74 317.23,115.46 317.80,115.47 318.38,115.41 318.95,115.24 319.53,115.78 320.10,115.38 320.68,115.62 321.25,115.72 321.83,115.64 322.40,115.49 322.98,115.03 323.55,114.93 324.12,114.72 324.70,114.66 325.28,113.93 325.85,114.46 326.43,114.81 327.00,114.42 327.58,114.91 328.15,115.91 328.73,115.16 329.30,114.91 329.88,115.02 330.45,115.10 331.03,114.81 331.60,114.71 332.18,114.57 332.75,114.15 333.33,114.56 333.90,114.95 334.48,114.63 335.05,114.08 335.62,114.74 336.20,114.45 336.78,114.49 337.35,114.37 337.93,114.66 338.50,114.53 339.08,113.96 339.65,114.62 340.23,114.63 340.80,114.50 341.38,113.72 341.95,114.06 342.53,113.76 343.10,113.27 343.68,114.03 344.25,113.87 344.83,114.11 345.40,114.00 345.98,114.36 346.55,113.90 347.12,114.14 347.70,113.55 348.28,114.33 348.85,114.14 349.43,114.11 350.00,113.96 350.58,114.07 351.15,114.50 351.70,113.87 352.00,111.78 352.30,113.70 352.88,113.40 353.45,113.05 354.03,113.47 354.60,113.67 355.18,113.04 355.75,113.08 356.33,112.63 356.90,112.88 357.48,112.55 358.05,111.35 358.62,111.38 359.20,109.44 359.78,107.87 360.35,105.52 360.93,103.33 361.50,103.70 362.08,103.21 362.65,104.65 363.23,104.64 363.80,105.64 364.38,106.18 364.95,107.22 365.53,107.29 366.10,107.60 366.68,108.37 367.25,108.23 367.83,108.54 368.40,109.35 368.98,109.60 369.55,109.54 370.12,109.03 370.70,110.29 371.28,110.97 371.85,111.08 372.43,110.68 373.00,110.79 373.58,111.14 374.15,111.82 374.73,111.74 375.30,111.90 375.88,112.52 376.45,112.16 377.03,112.41 377.60,111.91 378.18,112.48 378.75,112.93 379.33,112.85 379.90,112.80 380.48,113.60 381.05,113.37 381.62,112.62 382.20,112.86 382.78,112.81 383.35,112.65 383.93,112.96 384.50,113.05 385.08,113.17 385.65,113.27 386.23,113.12 386.80,113.45 387.38,112.82 387.95,113.65 388.53,112.59 389.10,112.91 389.68,112.72 390.25,112.88 390.83,113.25 391.40,113.22 391.98,113.90 392.55,113.19 393.12,113.35 393.70,113.35 394.28,113.16 394.85,113.51 395.43,113.22 396.00,113.08 396.58,113.25 397.15,112.97 397.73,113.14 398.30,113.56 398.88,113.35 399.45,113.26 400.03,113.19 400.60,113.43 401.18,113.20 401.75,113.02 402.33,112.83 402.90,113.48 403.48,113.53 404.05,113.45 404.62,113.21 405.20,113.30 405.78,113.21 406.35,113.32 406.93,113.91 407.50,113.29 408.08,113.57 408.65,113.51 409.23,113.46 409.80,113.79 410.38,114.16 410.95,113.74 411.53,114.22 412.10,114.12 412.68,114.20 413.25,113.92 413.83,113.92 414.40,114.00 414.98,113.62 415.55,112.98 416.12,113.61 416.70,114.05 417.28,114.70 417.85,114.05 418.43,114.20 419.00,113.46 419.58,113.84 420.15,114.01 420.73,114.20 421.30,114.37 421.88,114.58 422.45,114.22 423.03,114.99 423.60,114.47 424.18,114.09 424.75,113.50 425.33,113.39 425.90,114.15 426.48,114.46 427.05,113.86 427.62,113.58 428.20,114.10 428.78,114.14 429.35,114.00 429.93,113.98 430.50,113.96 431.08,114.01 431.65,114.11 432.23,114.34 432.80,113.91 433.38,113.71 433.95,113.83 434.53,113.81 435.10,114.21 435.68,114.38 436.25,114.03 436.83,113.82 437.40,114.20 437.98,114.38 438.55,115.19 439.12,114.89 439.70,113.78 440.27,114.10 440.85,114.81 441.43,114.82 442.00,114.16 442.58,114.58 443.15,114.32 443.73,114.49 444.30,114.14 444.88,114.29 445.45,114.18 446.02,114.75 446.60,114.70 447.18,114.56 447.75,114.23 448.33,114.41 448.90,114.27 449.48,114.74 450.05,114.51 450.62,114.30 451.20,114.31 451.77,114.37 452.35,114.38 452.93,114.66 453.50,114.36 454.08,114.15 454.65,114.11 455.23,114.90 455.80,114.20 456.38,114.85 456.95,114.22 457.52,114.59 458.10,114.69 458.68,114.49 459.25,114.78 459.83,114.73 460.40,114.66 460.98,114.73 461.55,114.94 462.12,114.31 462.70,115.13 463.27,115.14 463.85,114.44 464.43,114.08 465.00,115.29 465.58,113.99 466.15,114.73 466.73,114.57 467.30,114.91 467.88,114.69 468.45,114.30 469.02,113.67 469.60,113.89 470.18,114.66 470.75,114.44 471.33,114.22 471.90,114.13 472.48,114.65 473.05,115.17 473.62,114.70 474.20,114.34 474.77,114.74 475.35,114.66 475.93,114.74 476.50,114.63 477.08,114.44 477.65,114.64 478.23,114.53 478.80,114.91 479.38,115.42 479.95,115.49 480.52,114.44 481.10,114.52 481.68,115.31 482.25,114.97 482.83,114.86 483.40,114.92 483.98,114.89 484.55,114.70 485.12,114.77 485.70,115.38 486.27,114.89 486.85,114.58 487.43,114.80 488.00,114.65 488.58,115.10 489.15,115.13 489.73,114.48 490.30,114.40 490.88,115.67 491.45,115.66 492.02,115.08 492.60,114.88 493.18,115.70 493.75,115.18 494.33,114.51 494.90,115.07 495.48,114.62 496.05,115.24 496.62,114.66 497.20,114.91 497.77,114.86 498.35,115.41 498.93,115.18 499.50,115.76 500.08,115.61 500.65,114.87 501.23,114.89 501.80,115.40 502.38,115.11 502.95,114.58 503.52,114.93 504.10,114.95 504.68,114.90 505.25,114.91 505.83,115.27 506.40,114.97 506.98,115.60 507.55,114.64 508.12,114.84 508.70,115.20 509.27,114.97 509.85,115.15 510.43,115.19 511.00,114.45 511.58,114.68 512.15,114.33 512.73,114.08 513.30,114.81 513.88,115.53 514.45,114.99 515.02,115.01 515.60,115.48 516.17,115.37 516.70,115.15 517.00,111.77 517.30,114.96 517.90,114.97 518.48,115.63 519.05,115.04 519.62,114.47 520.20,114.99 520.77,115.55 521.35,115.15 521.92,114.63 522.50,114.32 523.08,115.10 523.65,115.45 524.23,114.96 524.80,115.68 525.38,114.60 525.95,115.15 526.52,115.35 527.10,115.59 527.67,115.10 528.25,114.67 528.83,114.44 529.40,115.17 529.98,115.26 530.55,115.12 531.12,114.84 531.70,115.56 532.27,115.58 532.85,115.09 533.42,115.09 534.00,115.15 534.58,115.52 535.15,115.34 535.73,115.15 536.30,115.52 536.88,115.37 537.45,115.39 538.02,115.18" stroke="#ff9c9c"/>
<path d="M308.60,99.23 309.18,99.00 309.75,98.85 310.33,98.20 310.90,99.38 311.48,98.39 312.05,98.77 312.62,98.99 313.20,98.29 313.78,98.50 314.35,98.81 314.93,99.19 315.50,98.66 316.08,99.09 316.65,98.50 317.23,98.28 317.80,97.97 318.38,98.56 318.95,98.18 319.53,98.24 320.10,98.62 320.68,98.28 321.25,98.23 321.83,98.40 322.40,98.78 322.98,98.19 323.55,97.98 324.12,97.76 324.70,98.05 325.28,98.14 325.85,97.50 326.43,97.68 327.00,98.07 327.58,97.99 328.15,98.07 328.73,98.01 329.30,98.23 329.88,98.41 330.45,97.69 331.03,97.22 331.60,97.47 332.18,97.80 332.75,98.48 333.33,97.04 333.90,97.57 334.48,97.67 335.05,97.83 335.62,97.80 336.20,97.30 336.78,96.99 337.35,97.37 337.93,97.60 338.50,96.52 339.08,96.92 339.65,97.32 340.23,97.27 340.80,97.31 341.38,97.28 341.95,96.83 342.53,96.95 343.10,97.02 343.68,96.73 344.25,97.26 344.83,96.55 345.40,96.65 345.98,97.61 346.55,97.05 347.12,96.89 347.70,96.85 348.28,96.33 348.85,96.57 349.43,96.26 350.00,96.15 350.58,96.86 351.15,96.61 351.70,96.49 352.00,94.69 352.30,96.59 352.88,96.35 353.45,96.83 354.03,96.41 354.60,96.98 355.18,96.06 355.75,95.61 356.33,95.23 356.90,94.98 357.48,93.74 358.05,92.91 358.62,91.68 359.20,90.55 359.78,88.61 360.35,88.79 360.93,88.32 361.50,88.54 362.08,88.14 362.65,88.72 363.23,89.36 363.80,89.91 364.38,90.78 364.95,90.90 365.53,92.20 366.10,92.69 366.68,93.41 367.25,94.04 367.83,94.71 368.40,95.42 368.98,95.57 369.55,96.30 370.12,95.85 370.70,96.12 371.28,96.87 371.85,96.69 372.43,95.90 373.00,96.37 373.58,96.68 374.15,97.15 374.73,97.07 375.30,96.50 375.88,97.17 376.45,96.85 377.03,96.37 377.60,97.24 378.18,96.49 378.75,96.42 379.33,97.38 379.90,96.58 380.48,96.36 381.05,96.80 381.62,97.48 382.20,96.86 382.78,96.96 383.35,97.81 383.93,97.22 384.50,96.64 385.08,97.20 385.65,97.59 386.23,96.92 386.80,96.59 387.38,96.24 387.95,96.82 388.53,96.48 389.10,96.75 389.68,96.93 390.25,97.13 390.83,97.13 391.40,97.17 391.98,97.10 392.55,96.91 393.12,97.71 393.70,97.58 394.28,97.19 394.85,97.10 395.43,97.68 396.00,97.44 396.58,97.81 397.15,97.21 397.73,97.15 398.30,96.76 398.88,97.37 399.45,98.17 400.03,97.94 400.60,97.33 401.18,97.96 401.75,97.66 402.33,96.82 402.90,96.88 403.48,97.16 404.05,97.33 404.62,97.51 405.20,97.26 405.78,97.67 406.35,97.18 406.93,97.05 407.50,96.79 408.08,97.23 408.65,97.32 409.23,97.77 409.80,97.67 410.38,97.67 410.95,97.88 411.53,97.84 412.10,97.14 412.68,97.52 413.25,98.02 413.83,97.87 414.40,97.34 414.98,97.39 415.55,97.88 416.12,97.48 416.70,97.84 417.28,97.43 417.85,97.55 418.43,97.46 419.00,97.16 419.58,97.18 420.15,97.15 420.73,96.90 421.30,97.66 421.88,97.70 422.45,97.96 423.03,98.08 423.60,97.97 424.18,97.63 424.75,98.08 425.33,97.42 425.90,97.79 426.48,97.60 427.05,97.53 427.62,97.53 428.20,96.64 428.78,97.55 429.35,97.11 429.93,97.80 430.50,97.43 431.08,97.56 431.65,97.48 432.23,97.12 432.80,97.71 433.38,98.00 433.95,97.52 434.53,97.70 435.10,98.35 435.68,97.75 436.25,97.22 436.83,98.53 437.40,98.00 437.98,97.91 438.55,97.72 439.12,97.81 439.70,97.72 440.27,97.53 440.85,97.60 441.43,98.03 442.00,97.63 442.58,98.25 443.15,97.91 443.73,97.72 444.30,97.61 444.88,97.86 445.45,97.88 446.02,98.39 446.60,97.52 447.18,97.67 447.75,97.86 448.33,97.71 448.90,98.12 449.48,97.57 450.05,97.74 450.62,97.77 451.20,97.20 451.77,97.24 452.35,97.66 452.93,98.03 453.50,97.85 454.08,98.04 454.65,98.02 455.23,97.87 455.80,97.90 456.38,98.03 456.95,97.14 457.52,97.79 458.10,97.96 458.68,97.44 459.25,97.57 459.83,98.00 460.40,97.97 460.98,98.07 461.55,97.93 462.12,97.72 462.70,98.02 463.27,98.15 463.85,98.32 464.43,97.57 465.00,97.33 465.58,97.48 466.15,97.86 466.73,97.62 467.30,97.85 467.88,97.71 468.45,97.84 469.02,97.27 469.60,97.87 470.18,97.90 470.75,97.67 471.33,97.71 471.90,98.57 472.48,97.33 473.05,98.13 473.62,97.56 474.20,97.87 474.77,97.63 475.35,97.99 475.93,98.13 476.50,97.52 477.08,97.70 477.65,98.21 478.23,97.57 478.80,97.95 479.38,98.15 479.95,98.17 480.52,97.68 481.10,96.90 481.68,97.56 482.25,97.60 482.83,97.40 483.40,98.38 483.98,98.34 484.55,97.69 485.12,97.98 485.70,97.71 486.27,97.58 486.85,97.91 487.43,97.17 488.00,97.91 488.58,98.52 489.15,98.32 489.73,97.37 490.30,97.35 490.88,96.95 491.45,97.51 492.02,97.49 492.60,98.27 493.18,98.48 493.75,98.17 494.33,98.58 494.90,98.07 495.48,97.61 496.05,97.17 496.62,98.27 497.20,97.71 497.77,97.32 498.35,97.60 498.93,97.47 499.50,98.24 500.08,97.65 500.65,97.26 501.23,97.45 501.80,97.45 502.38,97.43 502.95,97.97 503.52,97.81 504.10,97.82 504.68,98.12 505.25,97.98 505.83,97.94 506.40,97.67 506.98,98.06 507.55,98.16 508.12,97.28 508.70,98.06 509.27,98.06 509.85,97.85 510.43,97.55 511.00,97.72 511.58,97.34 512.15,97.68 512.73,96.92 513.30,97.74 513.88,98.24 514.45,97.99 515.02,97.80 515.60,97.41 516.17,97.57 516.70,97.33 517.00,94.63 517.30,97.46 517.90,97.88 518.48,98.20 519.05,98.25 519.62,97.94 520.20,97.60 520.77,97.82 521.35,98.00 521.92,97.25 522.50,97.60 523.08,97.36 523.65,97.58 524.23,97.75 524.80,97.61 525.38,97.53 525.95,97.49 526.52,97.70 527.10,97.46 527.67,97.27 528.25,98.01 528.83,97.63 529.40,97.94 529.98,96.95 530.55,97.49 531.12,97.86 531.70,98.34 532.27,98.04 532.85,97.42 533.42,97.09 534.00,97.98 534.58,97.49 535.15,97.82 535.73,97.16 536.30,97.25 536.88,97.48 537.45,98.30 538.02,98.33" stroke="#ff7070"/>
<path d="M308.60,78.84 309.18,79.17 309.75,79.39 310.33,79.08 310.90,79.45 311.48,79.67 312.05,78.98 312.62,79.50 313.20,79.25 313.78,79.00 314.35,78.87 314.93,79.11 315.50,78.64 316.08,79.55 316.65,79.15 317.23,79.25 317.80,79.00 318.38,79.02 318.95,78.90 319.53,78.83 320.10,78.85 320.68,78.21 321.25,78.21 321.83,78.98 322.40,78.90 322.98,78.50 323.55,78.40 324.12,78.31 324.70,78.32 325.28,78.69 325.85,77.99 326.43,78.37 327.00,78.10 327.58,78.47 328.15,78.36 328.73,77.93 329.30,77.91 329.88,77.56 330.45,78.16 331.03,77.95 331.60,78.02 332.18,78.57 332.75,78.03 333.33,78.35 333.90,77.72 334.48,78.51 335.05,77.77 335.62,77.79 336.20,77.81 336.78,77.70 337.35,77.59 337.93,78.11 338.50,77.36 339.08,78.00 339.65,78.06 340.23,77.58 340.80,76.66 341.38,77.26 341.95,77.03 342.53,76.83 343.10,76.59 343.68,76.88 344.25,77.19 344.83,77.05 345.40,77.11 345.98,77.14 346.55,77.07 347.12,77.27 347.70,76.75 348.28,77.06 348.85,76.41 349.43,76.49 350.00,76.83 350.58,76.64 351.15,77.11 351.70,75.55 352.00,74.39 352.30,76.42 352.88,75.83 353.45,75.73 354.03,76.10 354.60,76.14 355.18,75.07 355.75,74.55 356.33,74.11 356.90,73.62 357.48,72.71 358.05,72.08 358.62,69.72 359.20,66.63 359.78,63.44 360.35,60.70 360.93,60.06 361.50,60.31 362.08,61.20 362.65,62.25 363.23,63.53 363.80,65.67 364.38,67.21 364.95,68.42 365.53,69.29 366.10,69.85 366.68,70.45 367.25,71.08 367.83,71.22 368.40,71.47 368.98,72.23 369.55,72.54 370.12,73.45 370.70,72.31 371.28,73.47 371.85,73.11 372.43,73.35 373.00,74.48 373.58,74.40 374.15,74.51 374.73,75.43 375.30,75.22 375.88,75.15 376.45,75.36 377.03,75.27 377.60,74.90 378.18,75.12 378.75,75.45 379.33,76.11 379.90,75.96 380.48,76.32 381.05,75.90 381.62,76.37 382.20,76.36 382.78,76.54 383.35,76.35 383.93,76.87 384.50,76.66 385.08,76.45 385.65,76.89 386.23,76.78 386.80,76.87 387.38,76.82 387.95,77.02 388.53,76.99 389.10,77.03 389.68,77.13 390.25,77.24 390.83,77.09 391.40,76.81 391.98,77.64 392.55,77.49 393.12,77.01 393.70,76.90 394.28,77.52 394.85,77.69 395.43,77.61 396.00,78.16 396.58,77.28 397.15,77.17 397.73,77.58 398.30,77.76 398.88,77.63 399.45,77.43 400.03,77.54 400.60,77.15 401.18,77.17 401.75,78.03 402.33,78.37 402.90,77.83 403.48,77.38 404.05,78.02 404.62,77.79 405.20,77.37 405.78,77.74 406.35,77.77 406.93,77.62 407.50,77.84 408.08,78.29 408.65,77.93 409.23,77.96 409.80,78.36 410.38,78.58 410.95,78.77 411.53,78.30 412.10,77.79 412.68,78.12 413.25,78.21 413.83,77.94 414.40,78.51 414.98,78.00 415.55,78.30 416.12,78.32 416.70,78.74 417.28,78.30 417.85,78.42 418.43,78.00 419.00,78.28 419.58,78.68 420.15,78.40 420.73,78.42 421.30,77.71 421.88,78.84 422.45,79.10 423.03,78.76 423.60,78.65 424.18,78.34 424.75,78.63 425.33,77.92 425.90,78.26 426.48,78.61 427.05,77.86 427.62,78.13 428.20,78.92 428.78,78.52 429.35,79.02 429.93,79.12 430.50,79.04 431.08,79.48 431.65,78.96 432.23,78.90 432.80,78.85 433.38,78.60 433.95,78.63 434.53,78.82 435.10,78.29 435.68,79.23 436.25,79.25 436.83,78.48 437.40,78.85 437.98,79.42 438.55,79.68 439.12,78.76 439.70,79.32 440.27,79.27 440.85,79.21 441.43,78.97 442.00,79.58 442.58,78.95 443.15,79.28 443.73,79.17 444.30,79.47 444.88,79.27 445.45,79.42 446.02,79.60 446.60,79.12 447.18,79.52 447.75,79.38 448.33,79.44 448.90,79.96 449.48,79.62 450.05,78.72 450.62,79.44 451.20,79.55 451.77,79.42 452.35,79.88 452.93,79.31 453.50,79.45 454.08,79.74 454.65,79.58 455.23,80.38 455.80,79.15 456.38,79.07 456.95,78.70 457.52,79.94 458.10,79.87 458.68,79.70 459.25,79.22 459.83,79.67 460.40,79.50 460.98,79.39 461.55,79.32 462.12,79.22 462.70,78.87 463.27,79.15 463.85,79.42 464.43,79.31 465.00,79.53 465.58,79.19 466.15,79.75 466.73,79.38 467.30,78.74 467.88,79.66 468.45,79.43 469.02,79.46 469.60,79.13 470.18,79.18 470.75,79.63 471.33,79.19 471.90,80.15 472.48,80.03 473.05,79.71 473.62,79.07 474.20,79.34 474.77,79.13 475.35,78.83 475.93,79.21 476.50,79.49 477.08,79.24 477.65,79.28 478.23,79.12 478.80,79.52 479.38,79.36 479.95,79.42 480.52,79.26 481.10,79.12 481.68,79.31 482.25,79.83 482.83,79.77 483.40,79.07 483.98,79.60 484.55,78.99 485.12,78.94 485.70,79.17 486.27,79.12 486.85,79.43 487.43,78.99 488.00,79.03 488.58,79.28 489.15,79.54 489.73,79.54 490.30,79.88 490.88,79.33 491.45,79.93 492.02,79.08 492.60,78.98 493.18,79.41 493.75,79.25 494.33,79.12 494.90,79.07 495.48,79.08 496.05,78.92 496.62,78.97 497.20,78.58 497.77,78.73 498.35,78.72 498.93,78.86 499.50,79.65 500.08,79.34 500.65,79.16 501.23,79.61 501.80,80.03 502.38,79.34 502.95,79.32 503.52,79.82 504.10,79.29 504.68,79.76 505.25,79.31 505.83,79.36 506.40,78.91 506.98,79.30 507.55,78.80 508.12,79.60 508.70,79.53 509.27,79.53 509.85,79.46 510.43,79.31 511.00,79.68 511.58,79.53 512.15,79.73 512.73,79.53 513.30,78.96 513.88,79.52 514.45,79.48 515.02,79.13 515.60,78.70 516.17,79.24 516.70,79.25 517.00,74.57 517.30,79.70 517.90,79.38 518.48,79.60 519.05,79.63 519.62,79.71 520.20,79.35 520.77,79.13 521.35,79.65 521.92,79.70 522.50,79.40 523.08,79.03 523.65,79.36 524.23,79.40 524.80,78.70 525.38,79.09 525.95,78.97 526.52,79.35 527.10,78.81 527.67,79.05 528.25,79.04 528.83,78.93 529.40,79.12 529.98,78.66 530.55,78.76 531.12,79.17 531.70,79.17 532.27,79.27 532.85,79.51 533.42,79.42 534.00,79.16 534.58,79.64 535.15,79.51 535.73,78.95 536.30,78.83 536.88,79.27 537.45,78.94 538.02,78.97" stroke="#ff3a3a"/>
</g>
<rect x="308.00" y="11.90" width="230.50" height="196.70" fill="none" stroke="#1c1c1c" stroke-width="1.25"/>
<path d="M308.00,208.60 V204.10 M365.62,208.60 V204.10 M423.25,208.60 V204.10 M480.88,208.60 V204.10 M538.50,208.60 V204.10 M308.00,29.50 H312.50 M308.00,64.36 H312.50 M308.00,99.20 H312.50 M308.00,134.10 H312.50 M308.00,168.90 H312.50 M308.00,203.80 H312.50" stroke="#1c1c1c" stroke-width="1.2" fill="none"/>
<text transform="matrix(0.9778,0,0,0.9304,-0.622,10.341)" font-size="13">(a)</text>
<text transform="matrix(1.0222,0,0,0.9304,285.322,10.541)" font-size="13">(b)</text>
<text transform="matrix(1.0462,0,0,1.1529,7.492,223.388)" font-size="13">200</text>
<text transform="matrix(1.0462,0,0,1.1529,65.042,223.388)" font-size="13">300</text>
<text transform="matrix(0.9951,0,0,1.1529,123.651,223.388)" font-size="13">400</text>
<text transform="matrix(1.0462,0,0,1.1529,180.142,223.388)" font-size="13">500</text>
<text transform="matrix(1.0462,0,0,1.1529,237.692,223.388)" font-size="13">600</text>
<text transform="matrix(1.0462,0,0,1.1529,296.592,223.388)" font-size="13">200</text>
<text transform="matrix(1.0462,0,0,1.1529,354.167,223.388)" font-size="13">300</text>
<text transform="matrix(0.9951,0,0,1.1529,412.801,223.388)" font-size="13">400</text>
<text transform="matrix(1.0462,0,0,1.1529,469.317,223.388)" font-size="13">500</text>
<text transform="matrix(1.0462,0,0,1.1529,526.892,223.388)" font-size="13">600</text>
<text transform="matrix(1.0409,0,0,1.0941,76.999,241.774)" font-size="13">Raman shift [cm<tspan font-size="10" dx="0.6" dy="-4.6">−1</tspan><tspan dx="0.4" dy="4.6">]</tspan></text>
<text transform="matrix(1.0363,0,0,1.0706,366.105,241.768)" font-size="13">Raman shift [cm<tspan font-size="10" dx="0.6" dy="-4.6">−1</tspan><tspan dx="0.4" dy="4.6">]</tspan></text>
<text transform="rotate(-90) matrix(1.0038,0,0,1.1000,-150.955,12.925)" font-size="13">Intensity [a.u.]</text>
<text transform="rotate(-90) matrix(0.9975,0,0,1.0824,-150.747,301.971)" font-size="13">Intensity [a.u.]</text>
<text transform="matrix(0.9000,0,0,1.1176,43.925,29.079)" font-size="13">CuS</text>
<text transform="matrix(0.9220,0,0,1.0706,86.848,27.168)" font-size="13">CI(G)S-CH</text>
<text transform="matrix(0.9187,0,0,1.0824,93.552,52.071)" font-size="13">CI(G)S-CA</text>
<text transform="matrix(0.9234,0,0,1.1294,189.246,38.882)" font-size="13">CuS</text>
<text transform="matrix(0.9574,0,0,1.0941,333.503,29.474)" font-size="13">CuS</text>
<text transform="matrix(0.9600,0,0,1.0588,376.100,28.065)" font-size="13">CIS-CH</text>
<text transform="matrix(0.9412,0,0,1.0706,383.524,52.268)" font-size="13">CIS-CA</text>
<text transform="matrix(0.9234,0,0,1.1529,479.546,34.288)" font-size="13">CuS</text>
<text transform="matrix(0.9813,0,0,1.1294,210.173,60.182)" font-size="13">600 °C</text>
<text transform="matrix(0.9813,0,0,1.1294,210.173,79.782)" font-size="13">550 °C</text>
<text transform="matrix(0.9813,0,0,1.1294,210.173,100.682)" font-size="13">500 °C</text>
<text transform="matrix(0.9558,0,0,1.1294,211.161,120.082)" font-size="13">450 °C</text>
<text transform="matrix(0.9558,0,0,1.1294,211.161,138.182)" font-size="13">400 °C</text>
<text transform="matrix(0.9813,0,0,1.1294,210.173,153.782)" font-size="13">350 °C</text>
<text transform="matrix(0.9813,0,0,1.1294,210.173,171.582)" font-size="13">300 °C</text>
<text transform="matrix(0.9813,0,0,1.1294,210.173,189.782)" font-size="13">250 °C</text>
<text transform="matrix(0.9920,0,0,1.1294,498.560,75.182)" font-size="13">600 °C</text>
<text transform="matrix(0.9920,0,0,1.1294,498.560,93.282)" font-size="13">550 °C</text>
<text transform="matrix(0.9920,0,0,1.1294,498.560,111.882)" font-size="13">500 °C</text>
<text transform="matrix(0.9662,0,0,1.1294,499.558,129.782)" font-size="13">450 °C</text>
<text transform="matrix(0.9662,0,0,1.1294,499.558,146.882)" font-size="13">400 °C</text>
<text transform="matrix(0.9920,0,0,1.1294,498.560,160.782)" font-size="13">350 °C</text>
<text transform="matrix(0.9920,0,0,1.1294,498.560,176.482)" font-size="13">300 °C</text>
<text transform="matrix(0.9920,0,0,1.1294,498.560,192.182)" font-size="13">250 °C</text>
<path d="M84.70,22.40 L77.02,15.83" stroke="#111" stroke-width="1.3"/>
<path d="M73.60,12.90 L79.53,14.42 L76.02,18.53 Z" fill="#111"/>
<path d="M92.70,41.60 L84.35,34.59" stroke="#111" stroke-width="1.3"/>
<path d="M80.90,31.70 L86.85,33.17 L83.38,37.30 Z" fill="#111"/>
<path d="M189.30,26.70 L180.54,17.72" stroke="#111" stroke-width="1.3"/>
<path d="M177.40,14.50 L183.17,16.55 L179.31,20.32 Z" fill="#111"/>
<path d="M373.80,23.20 L366.14,17.18" stroke="#111" stroke-width="1.3"/>
<path d="M362.60,14.40 L368.59,15.67 L365.26,19.92 Z" fill="#111"/>
<path d="M382.70,43.10 L374.32,35.93" stroke="#111" stroke-width="1.3"/>
<path d="M370.90,33.00 L376.83,34.53 L373.32,38.63 Z" fill="#111"/>
<path d="M479.70,24.30 L471.54,17.40" stroke="#111" stroke-width="1.3"/>
<path d="M468.10,14.50 L474.04,15.99 L470.56,20.11 Z" fill="#111"/>
</svg></body></html>
